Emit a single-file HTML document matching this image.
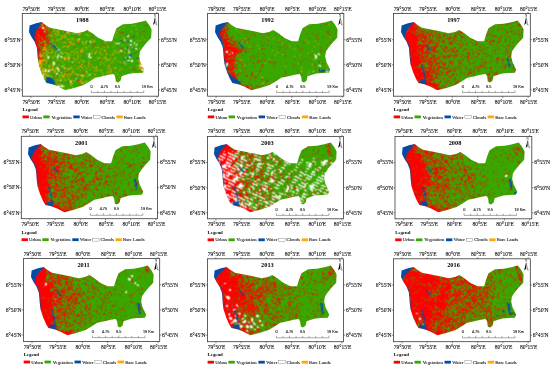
<!DOCTYPE html><html><head><meta charset="utf-8"><title>Land use maps 1988-2016</title><style>
html,body{margin:0;padding:0;background:#fff}svg{display:block}
text{font-family:"Liberation Serif",serif;fill:#111}
.tk{font-size:5.5px;stroke:#111;stroke-width:.1px}.tl{font-size:5.7px}.yr{font-size:6.3px;font-weight:bold;fill:#000}.lg{font-size:4.8px;font-weight:bold;fill:#000}.li{font-size:4.7px;stroke:#111;stroke-width:.08px}
.sb{font-family:"Liberation Sans",sans-serif;font-size:3.8px;fill:#222;stroke:#222;stroke-width:.12px}.n{font-size:3px;fill:#000}
</style></head><body>
<svg width="550" height="369" viewBox="0 0 550 369">
<defs><polygon id="pg" points="7.0,17.9 7.6,11.5 14.0,9.2 19.7,8.0 23.5,10.9 28,13.8 36.9,15.6 45.8,17.3 54.7,19.2 61.1,17.9 65.3,16.1 70.4,19.3 76.2,23.7 83.6,27.3 90.1,27.3 92,20.7 94.5,14.2 101.1,10.2 109.9,9.8 117.2,8.3 123.8,6.4 127.4,11.2 129.6,15.6 129.2,23.7 124.5,28.8 120.8,33.2 117.9,37.5 117.2,42.7 118.6,48.4 122.3,55.7 120.8,58.7 114.3,58.9 108.4,59.4 104,60.8 99.6,62.3 98.5,66.7 96,68.6 93.8,67.4 93.1,62.3 91.6,60.1 86.5,60.8 80.6,62.3 73.3,63.8 67.5,67.4 61.6,71.1 52.2,74 43.4,76.2 36.1,72.5 30.2,70.3 24.4,68.9 22.2,65.2 19.3,58.7 16.4,49.9 15.6,42.6 14.9,33.8 12.7,28.1 9.5,23"/><clipPath id="cp"><use href="#pg"/></clipPath><filter id="bl" x="-5%" y="-5%" width="110%" height="110%" color-interpolation-filters="sRGB"><feConvolveMatrix order="3" kernelMatrix="1 2 1 2 6 2 1 2 1" divisor="18" edgeMode="duplicate" preserveAlpha="false"/></filter></defs>
<rect width="550" height="369" fill="#fff"/>
<g transform="translate(22.3,13.5)">
<g transform="translate(-0.30,0.50)" clip-path="url(#cp)"><g filter="url(#bl)">
<use href="#pg" fill="#38a800" stroke="#38a800" stroke-width="5"/>
<path transform="translate(0,.5)" d="M122 4h1M120 5h1M122 6h1M22 9h1M25 9h1M104 9h1M20 10h1M26 10h1M20 11h1M25 11h1M110 11h1M113 11h1M24 12h1M129 12h1M27 13h1M32 13h1M35 13h1M37 13h1M93 13h1M101 13h1M22 14h1M31 14h1M36 14h1M40 14h1M24 15h1M26 15h1M32 15h1M36 15h1M38 15h2M48 15h1M63 15h1M92 15h1M97 15h1M114 15h1M36 16h1M48 16h2M94 16h1M31 17h2M34 17h2M46 17h1M57 17h1M66 17h3M91 17h1M109 17h1M36 18h1M41 18h1M47 18h1M95 18h1M29 19h1M33 19h1M36 19h1M45 19h1M47 19h1M50 19h1M52 19h2M57 19h1M93 19h1M115 19h1M32 20h1M35 20h1M43 20h1M47 20h1M56 20h3M63 20h1M65 20h1M72 20h1M75 20h1M90 20h2M16 21h1M26 21h1M28 21h2M34 21h1M37 21h1M39 21h1M42 21h1M65 21h1M67 21h1M73 21h1M91 21h1M30 22h1M40 22h1M43 22h1M75 22h1M94 22h1M129 22h1M33 23h1M40 23h1M42 23h2M80 23h1M101 23h1M120 23h1M39 24h1M49 24h1M51 24h1M57 24h1M81 24h1M101 24h1M20 25h1M31 25h1M35 25h1M37 25h2M45 25h3M50 25h1M55 25h2M69 25h1M98 25h1M122 25h1M30 26h1M34 26h1M56 26h1M72 26h1M82 26h1M84 26h1M88 26h1M115 26h1M118 26h1M17 27h1M22 27h1M27 27h1M29 27h1M36 27h1M47 27h1M49 27h1M55 27h1M60 27h1M67 27h1M70 27h1M72 27h1M83 27h1M102 27h1M128 27h1M28 28h1M40 28h1M42 28h2M47 28h2M56 28h1M60 28h1M63 28h1M71 28h1M83 28h1M92 28h1M19 29h1M30 29h1M49 29h1M51 29h1M61 29h1M63 29h1M115 29h1M22 30h3M31 30h1M33 30h1M48 30h1M50 30h1M52 30h1M61 30h1M85 30h1M93 30h1M107 30h1M29 31h1M46 31h2M100 31h1M112 31h1M22 32h1M41 32h2M44 32h2M67 32h1M80 32h1M85 32h1M91 32h1M22 33h2M28 33h1M34 33h2M40 33h1M46 33h1M63 33h2M73 33h1M75 33h2M82 33h1M86 33h1M107 33h1M21 34h1M23 34h1M55 34h1M60 34h1M117 34h1M21 35h4M26 35h1M28 35h1M45 35h1M53 35h1M60 35h1M64 35h1M78 35h2M21 36h1M30 36h1M58 36h3M70 36h1M75 36h1M82 36h2M92 36h2M23 37h2M30 37h1M38 37h2M49 37h2M52 37h1M55 37h1M58 37h1M61 37h1M74 37h1M83 37h1M97 37h1M20 38h1M25 38h3M29 38h1M33 38h1M43 38h2M54 38h1M58 38h2M68 38h1M70 38h1M73 38h1M77 38h2M91 38h1M93 38h1M95 38h2M102 38h1M107 38h1M18 39h1M21 39h2M29 39h1M33 39h1M38 39h2M45 39h2M48 39h1M52 39h1M56 39h1M64 39h1M72 39h2M84 39h1M107 39h1M18 40h1M69 40h1M78 40h1M80 40h1M84 40h1M90 40h2M17 41h2M20 41h2M25 41h1M33 41h1M45 41h2M48 41h1M51 41h1M55 41h1M58 41h1M88 41h1M18 42h3M24 42h1M27 42h1M31 42h1M33 42h1M43 42h1M83 42h1M118 42h1M18 43h1M22 43h1M27 43h1M30 43h1M40 43h3M47 43h1M55 43h2M75 43h1M77 43h1M82 43h1M93 43h1M20 44h1M31 44h1M42 44h3M46 44h2M51 44h1M53 44h1M67 44h1M75 44h1M77 44h1M80 44h1M83 44h2M88 44h1M92 44h1M17 45h1M19 45h1M22 45h1M25 45h1M36 45h1M42 45h2M46 45h1M52 45h1M55 45h1M59 45h1M84 45h1M86 45h1M93 45h1M116 45h1M118 45h2M13 46h1M17 46h7M34 46h1M38 46h1M42 46h1M47 46h1M67 46h1M72 46h1M85 46h1M87 46h1M90 46h1M115 46h1M117 46h2M16 47h3M20 47h1M24 47h1M31 47h1M46 47h1M50 47h1M53 47h1M60 47h3M79 47h1M83 47h1M96 47h1M117 47h1M119 47h1M14 48h1M17 48h3M24 48h1M30 48h1M40 48h1M56 48h2M66 48h1M78 48h1M91 48h1M98 48h1M101 48h1M117 48h2M120 48h1M16 49h3M20 49h1M23 49h1M66 49h1M81 49h1M89 49h1M102 49h1M104 49h1M117 49h2M17 50h2M28 50h1M59 50h2M67 50h1M69 50h1M78 50h1M103 50h1M118 50h2M121 50h1M19 51h2M23 51h1M26 51h1M30 51h2M36 51h1M41 51h2M52 51h1M58 51h1M83 51h1M86 51h2M115 51h1M16 52h1M18 52h1M30 52h1M39 52h1M49 52h1M56 52h1M58 52h1M63 52h1M66 52h1M74 52h1M118 52h1M15 53h5M30 53h2M34 53h1M42 53h2M59 53h2M70 53h2M74 53h1M86 53h1M93 53h1M108 53h1M116 53h2M119 53h1M121 53h1M15 54h1M18 54h1M21 54h3M26 54h1M33 54h2M45 54h2M50 54h1M54 54h1M56 54h1M64 54h1M73 54h2M85 54h1M88 54h1M92 54h2M98 54h1M118 54h2M121 54h1M18 55h1M20 55h2M23 55h2M27 55h3M31 55h1M35 55h1M46 55h1M61 55h1M67 55h1M87 55h1M100 55h1M117 55h1M119 55h1M124 55h1M20 56h2M31 56h1M33 56h1M37 56h1M45 56h1M51 56h1M58 56h1M72 56h1M74 56h2M78 56h2M87 56h1M89 56h1M97 56h1M119 56h1M17 57h5M25 57h1M29 57h1M32 57h2M43 57h1M50 57h1M85 57h1M89 57h1M17 58h1M19 58h1M25 58h1M32 58h1M50 58h2M64 58h1M80 58h1M86 58h1M88 58h1M93 58h1M111 58h1M17 59h1M20 59h4M43 59h1M46 59h1M48 59h1M53 59h1M65 59h1M69 59h1M80 59h1M84 59h1M23 60h2M27 60h1M37 60h1M39 60h1M42 60h2M45 60h1M48 60h1M52 60h1M57 60h2M72 60h2M88 60h1M95 60h1M19 61h2M24 61h3M37 61h1M40 61h2M45 61h1M49 61h1M55 61h1M61 61h1M63 61h1M80 61h2M86 61h1M92 61h1M102 61h1M19 62h2M24 62h1M26 62h2M33 62h1M39 62h1M41 62h2M47 62h1M60 62h2M65 62h1M82 62h1M19 63h2M23 63h1M37 63h1M41 63h1M45 63h1M72 63h1M81 63h1M92 63h1M97 63h1M19 64h1M23 64h1M39 64h1M60 64h1M70 64h1M92 64h1M21 65h1M33 65h1M35 65h1M38 65h1M42 65h1M46 65h2M53 65h1M59 65h1M68 65h1M74 65h1M92 65h1M21 66h1M23 66h1M36 66h1M39 66h1M43 66h1M48 66h1M51 66h1M58 66h1M71 66h1M93 66h1M21 67h1M34 67h1M52 67h1M57 67h2M60 67h1M63 67h2M67 67h1M22 68h1M48 68h1M59 68h1M61 68h1M65 68h1M68 68h1M98 68h1M36 69h1M48 69h3M59 69h3M63 69h1M34 70h1M38 70h1M49 70h1M66 70h1M30 71h1M32 71h1M48 71h1M40 72h1M42 72h1M40 73h1M50 73h1M56 73h1M61 73h1M34 74h1M37 74h1M52 74h1M55 74h1M43 75h1M47 75h1M42 76h1M44 76h1" stroke="#ffaa00" stroke-width="1" fill="none"/>
<path transform="translate(0,.5)" d="M15 6h6M12 7h6M20 7h1M9 8h4M20 8h2M99 8h1M116 8h1M7 9h3M19 9h1M6 10h1M19 10h1M21 10h3M5 11h1M18 11h1M22 11h2M26 11h1M123 11h2M5 12h1M17 12h2M20 12h3M27 12h1M30 12h1M5 13h1M16 13h1M19 13h1M22 13h1M95 13h1M5 14h1M16 14h4M23 14h3M5 15h1M15 15h8M25 15h1M27 15h2M91 15h1M14 16h8M24 16h1M28 16h1M65 16h1M93 16h1M14 17h1M16 17h6M23 17h3M27 17h1M48 17h1M120 17h1M122 17h1M13 18h9M25 18h1M28 18h1M42 18h1M98 18h1M100 18h2M13 19h2M16 19h11M28 19h1M39 19h1M46 19h1M118 19h1M13 20h11M25 20h1M31 20h1M73 20h1M6 21h1M13 21h3M17 21h8M59 21h1M71 21h1M112 21h1M12 22h7M20 22h3M25 22h2M54 22h1M108 22h1M7 23h1M12 23h2M15 23h2M18 23h2M21 23h3M32 23h1M122 23h1M13 24h2M16 24h3M20 24h7M31 24h1M69 24h1M8 25h1M13 25h4M18 25h2M21 25h2M24 25h1M33 25h1M41 25h1M101 25h1M9 26h1M13 26h2M16 26h6M24 26h4M39 26h1M47 26h1M13 27h4M18 27h2M26 27h1M28 27h1M105 27h1M13 28h5M24 28h3M55 28h1M119 28h1M14 29h3M18 29h1M20 29h4M25 29h1M34 29h1M57 29h1M66 29h1M72 29h1M14 30h2M18 30h4M25 30h2M46 30h2M72 30h1M80 30h1M86 30h1M14 31h2M18 31h5M24 31h1M83 31h1M14 32h4M21 32h1M23 32h1M29 32h1M71 32h1M79 32h1M12 33h5M19 33h1M29 33h1M52 33h1M12 34h7M20 34h1M22 34h1M24 34h1M27 34h1M98 34h1M100 34h1M12 35h1M16 35h2M27 35h1M16 36h3M31 36h1M77 36h1M13 37h1M16 37h2M21 37h2M27 37h1M45 37h1M57 37h1M84 37h1M105 37h1M114 37h1M13 38h1M16 38h1M18 38h2M71 38h1M13 39h1M16 39h1M20 39h1M58 39h1M13 40h1M16 40h2M22 40h1M99 40h1M13 41h1M16 41h1M13 42h1M16 42h1M87 42h1M13 43h1M16 43h2M19 43h3M36 43h1M54 43h1M60 43h1M14 44h1M17 44h3M13 45h2M16 45h1M18 45h1M20 45h1M49 45h1M27 46h1M78 46h1M21 48h1M23 48h1M26 49h1M64 49h1M119 49h1M50 50h1M58 50h1M68 50h1M89 50h1M17 51h1M84 51h1M121 51h1M21 52h1M29 52h1M43 52h1M36 53h1M101 54h1M112 54h1M60 55h1M86 55h1M110 55h1M39 56h1M90 56h1M113 56h1M118 56h1M28 57h1M44 58h2M47 58h1M62 58h1M122 58h1M37 59h1M56 59h1M18 60h1M59 60h1M31 61h1M34 61h1M43 61h1M52 61h1M89 61h1M49 62h1M93 62h1M99 63h1M33 64h1M56 66h2M45 67h1M56 67h1M36 68h1M58 70h1M37 75h1" stroke="#ff0000" stroke-width="1" fill="none"/>
<path transform="translate(0,.5)" d="M20 13h2M20 14h2M41 14h2M41 15h1M22 17h1M45 17h1M54 17h1M45 18h1M106 21h1M105 22h2M57 25h1M102 25h1M102 26h1M108 26h2M64 27h1M68 27h1M108 27h2M68 28h1M112 28h1M94 29h4M112 29h1M108 30h2M114 30h1M108 31h1M114 31h1M110 33h1M103 34h1M113 34h2M36 35h2M106 35h1M114 35h1M35 36h1M98 36h2M99 37h1M106 37h2M40 39h1M67 39h1M106 39h1M24 40h1M36 40h1M66 40h2M36 41h1M67 41h1M26 42h1M35 42h2M38 42h2M66 42h2M107 42h1M25 43h2M35 43h1M39 43h1M46 43h1M67 43h3M103 43h1M107 43h2M13 44h1M26 44h1M35 44h1M105 46h3M109 46h2M102 47h1M109 47h2M31 48h2M50 48h1M14 49h2M31 49h2M14 50h3M31 50h2M14 51h2M117 51h4M27 52h1M40 52h1M119 52h3M35 53h1M35 54h2M42 54h1M48 54h1M30 55h1M36 55h1M120 55h2M23 56h2M26 56h2M36 56h1M120 56h2M22 57h2M26 57h2M36 57h1M64 57h1M39 58h1M34 59h2M21 60h1M34 60h1M55 60h1M67 60h1M21 61h1M59 61h2M67 61h1M21 62h1M29 62h1M21 63h1M54 64h1M38 66h1M48 67h2M36 71h1M39 71h2M35 72h5M41 72h1M35 73h2M46 75h1" stroke="#ffffff" stroke-width="1" fill="none"/>
<path transform="translate(0,.5)" d="M18 7h2M13 8h7M10 9h9M7 10h11M6 11h12M6 12h11M6 13h10M6 14h10M6 15h9M5 16h9M5 17h9M5 18h8M5 19h8M6 20h7M104 20h1M7 21h6M7 22h5M111 22h1M8 23h4M111 23h1M8 24h5M9 25h4M10 26h3M98 26h2M10 27h3M101 27h1M106 27h1M10 28h3M27 28h1M101 28h1M108 28h1M11 29h3M28 29h2M108 29h1M11 30h3M29 30h2M11 31h3M30 31h2M122 31h1M12 32h2M31 32h2M108 32h1M32 33h2M105 33h1M111 33h1M33 34h2M105 34h1M111 34h1M13 35h3M34 35h2M14 36h2M36 36h1M14 37h2M14 38h2M14 39h2M112 39h1M14 40h2M106 40h3M14 41h2M108 41h2M14 42h2M108 42h1M14 43h2M101 43h1M15 44h1M105 44h1M114 44h3M15 45h1M105 45h1M15 46h1M101 46h2M116 49h1M100 50h1M24 63h4M24 64h6M24 65h7M24 66h8M24 67h8M24 68h9M27 69h6M30 70h3" stroke="#004da8" stroke-width="1" fill="none"/>
</g></g>
<rect x="0" y="0" width="136.2" height="82.7" fill="none" stroke="#3a3a3a" stroke-width=".8"/>
<path d="M8.5 0v-1.6M8.5 82.7v1.6M33.7 0v-1.6M33.7 82.7v1.6M58.9 0v-1.6M58.9 82.7v1.6M84.2 0v-1.6M84.2 82.7v1.6M109.4 0v-1.6M109.4 82.7v1.6M134.6 0v-1.6M134.6 82.7v1.6M0 26.2h-1.6M136.2 26.2h1.6M0 51.3h-1.6M136.2 51.3h1.6M0 76.4h-1.6M136.2 76.4h1.6" stroke="#3a3a3a" stroke-width=".6" fill="none"/>
<text class="tk" x="9.1" y="-3.0" text-anchor="middle">79°50'E</text>
<text class="tk" x="9.1" y="90.4" text-anchor="middle">79°50'E</text>
<text class="tk" x="34.3" y="-3.0" text-anchor="middle">79°55'E</text>
<text class="tk" x="34.3" y="90.4" text-anchor="middle">79°55'E</text>
<text class="tk" x="59.5" y="-3.0" text-anchor="middle">80°0'E</text>
<text class="tk" x="59.5" y="90.4" text-anchor="middle">80°0'E</text>
<text class="tk" x="84.8" y="-3.0" text-anchor="middle">80°5'E</text>
<text class="tk" x="84.8" y="90.4" text-anchor="middle">80°5'E</text>
<text class="tk" x="110.0" y="-3.0" text-anchor="middle">80°10'E</text>
<text class="tk" x="110.0" y="90.4" text-anchor="middle">80°10'E</text>
<text class="tk" x="135.2" y="-3.0" text-anchor="middle">80°15'E</text>
<text class="tk" x="135.2" y="90.4" text-anchor="middle">80°15'E</text>
<text class="tk tl" x="-1.8" y="28.1" text-anchor="end">6°55'N</text>
<text class="tk tl" x="138.6" y="28.1">6°55'N</text>
<text class="tk tl" x="-1.8" y="53.2" text-anchor="end">6°50'N</text>
<text class="tk tl" x="138.6" y="53.2">6°50'N</text>
<text class="tk tl" x="-1.8" y="78.3" text-anchor="end">6°45'N</text>
<text class="tk tl" x="138.6" y="78.3">6°45'N</text>
<text class="yr" x="60" y="8.6" text-anchor="middle">1988</text>
<text class="n" x="132.5" y="3.5" text-anchor="middle">N</text>
<path d="M132.6 4.2L130.6 11.7 132.6 9.6Z" fill="#000"/><path d="M132.6 4.2L134.6 11.7 132.6 9.6Z" fill="#fff" stroke="#000" stroke-width=".35"/>
<path d="M69.0 76.9V79.0H121.5V76.9M75.56 79.0v-1.7M82.12 79.0v-2.0M88.69 79.0v-1.7M95.25 79.0v-2.0M101.81 79.0v-1.7M108.38 79.0v-1.7M114.94 79.0v-1.7" stroke="#555" stroke-width=".5" fill="none"/>
<text class="sb" x="69.2" y="74.2" text-anchor="middle">0</text>
<text class="sb" x="82.1" y="74.2" text-anchor="middle">4.75</text>
<text class="sb" x="95.2" y="74.2" text-anchor="middle">9.5</text>
<text class="sb" x="125.0" y="74.2" text-anchor="middle">19 Km</text>
<text class="lg" x="0.2" y="97.5">Legend</text>
<rect x="0.2" y="102.0" width="6.4" height="2.8" fill="#ff0000"/>
<text class="li" x="7.8" y="105.1">Urban</text>
<rect x="21.0" y="102.0" width="6.4" height="2.8" fill="#38a800"/>
<text class="li" x="29.2" y="105.1">Vegetation</text>
<rect x="51.0" y="102.0" width="6.4" height="2.8" fill="#004da8"/>
<text class="li" x="58.8" y="105.1">Water</text>
<rect x="71.4" y="102.0" width="6.4" height="2.8" fill="#ffffff" stroke="#666" stroke-width=".35"/>
<text class="li" x="79.2" y="105.1">Clouds</text>
<rect x="94.2" y="102.0" width="6.4" height="2.8" fill="#ffaa00"/>
<text class="li" x="101.7" y="105.1">Bare Lands</text>
</g>
<g transform="translate(207.6,13.5)">
<g transform="translate(0.40,0.50)" clip-path="url(#cp)"><g filter="url(#bl)">
<use href="#pg" fill="#38a800" stroke="#38a800" stroke-width="5"/>
<path transform="translate(0,.5)" d="M124 6h1M126 6h1M100 9h1M120 10h1M33 12h1M97 14h1M28 15h1M33 16h1M60 16h1M59 23h1M77 23h1M121 23h1M37 24h1M65 24h1M70 26h1M97 26h1M34 27h1M99 27h1M107 27h1M39 28h1M74 29h1M100 29h1M110 30h1M20 31h1M49 31h1M81 32h1M106 32h1M41 33h1M51 34h1M86 35h1M64 36h1M104 37h1M69 38h1M100 39h1M74 40h1M29 41h1M67 41h1M92 41h1M86 42h1M106 44h1M61 45h1M106 45h1M32 46h2M27 48h1M112 48h1M57 49h1M90 49h1M104 50h1M36 51h1M118 51h1M77 52h1M93 53h1M109 55h1M32 56h1M93 56h1M93 57h1M101 57h1M48 59h1M100 59h1M99 61h1M53 63h2M74 63h1M81 64h1M54 69h2M60 69h1M35 73h1M42 73h1" stroke="#ffaa00" stroke-width="1" fill="none"/>
<path transform="translate(0,.5)" d="M15 6h4M20 6h1M12 7h6M20 7h1M22 7h1M125 7h1M9 8h1M11 8h2M19 8h4M107 8h1M125 8h1M8 9h2M20 9h1M23 9h1M108 9h1M6 10h1M117 10h1M119 10h1M5 11h1M18 11h2M5 12h1M16 12h2M27 12h1M95 12h1M113 12h1M5 13h1M15 13h1M19 13h1M103 13h1M5 14h1M14 14h3M19 14h2M96 14h1M16 15h1M18 15h2M34 15h1M39 15h1M48 15h1M13 16h4M18 16h1M32 16h1M44 16h1M50 16h1M59 16h1M121 16h1M12 17h6M20 17h1M48 17h1M119 17h1M12 18h2M15 18h3M35 18h1M119 18h2M12 19h4M17 19h2M38 19h1M44 19h1M52 19h1M54 19h1M58 19h1M60 19h1M99 19h1M104 19h1M110 19h1M127 19h1M11 20h5M18 20h2M46 20h1M67 20h1M71 20h1M107 20h1M121 20h1M6 21h1M11 21h4M16 21h4M30 21h1M60 21h1M13 22h4M18 22h1M20 22h1M25 22h1M38 22h1M42 22h1M47 22h1M89 22h1M108 22h1M7 23h1M13 23h2M16 23h1M19 23h1M23 23h2M54 23h1M74 23h1M115 23h1M129 23h1M14 24h2M17 24h4M23 24h1M58 24h1M101 24h1M110 24h1M120 24h1M8 25h1M15 25h8M39 25h3M108 25h1M125 25h1M9 26h1M14 26h5M22 26h1M24 26h1M28 26h1M32 26h1M36 26h1M60 26h1M82 26h1M16 27h3M23 27h1M25 27h2M53 27h1M70 27h1M83 27h1M95 27h1M97 27h1M15 28h7M26 28h1M28 28h1M35 28h1M40 28h1M69 28h1M122 28h1M15 29h8M25 29h2M56 29h1M95 29h1M16 30h8M25 30h1M27 30h2M45 30h1M78 30h1M119 30h1M16 31h4M21 31h1M23 31h4M29 31h1M54 31h1M59 31h1M17 32h6M24 32h1M30 32h1M75 32h1M89 32h1M16 33h14M71 33h2M79 33h1M112 33h1M16 34h11M28 34h2M31 34h1M33 34h1M38 34h1M41 34h1M43 34h1M45 34h1M54 34h1M56 34h1M91 34h1M94 34h1M12 35h1M16 35h13M30 35h1M32 35h1M34 35h1M53 35h1M77 35h1M113 35h1M16 36h3M20 36h2M23 36h10M34 36h1M36 36h2M71 36h1M93 36h1M112 36h1M16 37h1M20 37h2M23 37h11M38 37h1M40 37h1M116 37h1M16 38h2M20 38h4M25 38h5M31 38h1M33 38h1M37 38h1M75 38h1M113 38h1M13 39h1M16 39h6M23 39h1M25 39h3M29 39h1M31 39h1M50 39h1M55 39h1M104 39h1M17 40h4M22 40h6M29 40h1M101 40h1M13 41h1M16 41h3M20 41h5M26 41h3M34 41h1M45 41h1M56 41h1M77 41h1M13 42h1M16 42h7M24 42h3M30 42h1M42 42h1M49 42h1M77 42h1M93 42h1M14 43h1M16 43h8M25 43h1M27 43h1M44 43h1M46 43h1M64 43h1M14 44h1M16 44h4M23 44h1M25 44h2M55 44h1M119 44h1M13 45h2M17 45h2M20 45h6M27 45h1M86 45h1M95 45h1M99 45h1M14 46h1M17 46h10M28 46h2M42 46h1M50 46h1M53 46h1M56 46h1M14 47h1M17 47h9M27 47h1M31 47h1M33 47h1M50 47h2M61 47h1M92 47h1M102 47h1M15 48h1M17 48h2M20 48h3M24 48h1M26 48h1M32 48h1M45 48h1M49 48h1M62 48h1M66 48h2M21 49h3M25 49h2M38 49h1M45 49h1M64 49h1M78 49h1M92 49h1M114 49h1M119 49h1M14 50h2M20 50h1M22 50h4M28 50h1M34 50h1M54 50h1M86 50h1M106 50h1M14 51h2M21 51h2M24 51h1M26 51h1M28 51h1M54 51h1M66 51h1M108 51h1M16 52h1M20 52h2M23 52h3M27 52h1M34 52h1M46 52h1M54 52h1M15 53h2M19 53h3M23 53h3M27 53h1M85 53h1M15 54h2M19 54h8M28 54h2M36 54h1M53 54h1M65 54h1M117 54h1M122 54h1M16 55h1M19 55h6M33 55h1M107 55h1M17 56h1M21 56h5M89 56h1M17 57h1M22 57h1M51 57h2M77 57h1M17 58h1M20 58h7M31 58h1M36 58h1M44 58h1M114 58h1M17 59h2M21 59h1M23 59h2M26 59h1M33 59h1M43 59h1M77 59h1M89 59h1M110 59h1M18 60h1M22 60h5M29 60h2M43 60h2M49 60h1M120 60h1M23 61h4M28 61h2M38 61h2M44 61h1M93 61h1M100 61h1M18 62h2M24 62h4M38 62h1M43 62h1M47 62h1M75 62h1M19 63h2M26 63h1M28 63h1M48 63h1M77 63h2M19 64h2M27 64h2M42 64h1M46 64h1M20 65h2M29 65h1M53 65h2M58 65h1M20 66h1M33 66h1M59 66h1M67 66h1M100 66h1M21 67h2M36 67h1M41 67h1M47 67h1M58 67h1M91 67h1M21 68h3M59 68h1M65 68h1M22 69h2M32 69h1M40 69h1M24 70h2M33 70h1M43 70h1M61 70h1M25 71h3M32 71h3M36 71h1M39 71h1M55 71h1M60 71h1M29 72h1M31 72h6M38 72h3M42 72h2M48 72h3M53 72h1M32 73h3M36 73h5M46 73h1M34 74h8M43 74h1M45 74h1M37 75h4M43 75h1M45 75h1M39 76h13M42 77h6M43 78h1" stroke="#ff0000" stroke-width="1" fill="none"/>
<path transform="translate(0,.5)" d="M18 37h2M18 38h2M24 38h1M24 39h1M110 39h1M21 40h1M106 40h1M110 40h2M107 41h2M107 42h2M107 43h2M108 44h1M18 49h2M18 50h2M18 51h1M110 51h3M18 52h1M112 52h1M118 55h1M16 56h1M16 57h1M105 57h1M118 57h2M121 57h1M118 58h1" stroke="#ffffff" stroke-width="1" fill="none"/>
<path transform="translate(0,.5)" d="M18 7h2M13 8h6M10 9h9M7 10h11M6 11h11M6 12h10M6 13h9M6 14h8M6 15h8M5 16h8M5 17h7M5 18h7M5 19h7M6 20h5M7 21h4M7 22h6M8 23h5M8 24h6M9 25h5M10 26h4M10 27h5M10 28h5M30 28h2M11 29h4M31 29h1M11 30h4M32 30h1M11 31h4M32 31h2M12 32h4M33 32h2M63 32h1M12 33h4M34 33h2M13 34h3M35 34h1M13 35h3M13 36h3M13 37h3M13 38h3M14 39h2M14 40h2M14 41h2M14 42h2M15 43h1M15 44h1M15 45h2M15 46h2M15 47h2M111 47h1M16 48h1M111 48h1M16 49h2M16 50h2M16 51h2M17 52h1M17 53h2M17 54h2M17 55h2M110 55h2M115 55h1M18 56h2M111 56h1M113 56h6M18 57h2M111 57h5M18 58h2M19 59h2M19 60h3M19 61h4M20 62h4M21 63h5M21 64h6M22 65h7M22 66h8M23 67h9M24 68h9M24 69h8M27 70h5M29 71h3" stroke="#004da8" stroke-width="1" fill="none"/>
</g></g>
<rect x="0" y="0" width="136.2" height="82.7" fill="none" stroke="#3a3a3a" stroke-width=".8"/>
<path d="M8.5 0v-1.6M8.5 82.7v1.6M33.7 0v-1.6M33.7 82.7v1.6M58.9 0v-1.6M58.9 82.7v1.6M84.2 0v-1.6M84.2 82.7v1.6M109.4 0v-1.6M109.4 82.7v1.6M134.6 0v-1.6M134.6 82.7v1.6M0 26.2h-1.6M136.2 26.2h1.6M0 51.3h-1.6M136.2 51.3h1.6M0 76.4h-1.6M136.2 76.4h1.6" stroke="#3a3a3a" stroke-width=".6" fill="none"/>
<text class="tk" x="9.1" y="-3.0" text-anchor="middle">79°50'E</text>
<text class="tk" x="9.1" y="90.4" text-anchor="middle">79°50'E</text>
<text class="tk" x="34.3" y="-3.0" text-anchor="middle">79°55'E</text>
<text class="tk" x="34.3" y="90.4" text-anchor="middle">79°55'E</text>
<text class="tk" x="59.5" y="-3.0" text-anchor="middle">80°0'E</text>
<text class="tk" x="59.5" y="90.4" text-anchor="middle">80°0'E</text>
<text class="tk" x="84.8" y="-3.0" text-anchor="middle">80°5'E</text>
<text class="tk" x="84.8" y="90.4" text-anchor="middle">80°5'E</text>
<text class="tk" x="110.0" y="-3.0" text-anchor="middle">80°10'E</text>
<text class="tk" x="110.0" y="90.4" text-anchor="middle">80°10'E</text>
<text class="tk" x="135.2" y="-3.0" text-anchor="middle">80°15'E</text>
<text class="tk" x="135.2" y="90.4" text-anchor="middle">80°15'E</text>
<text class="tk tl" x="-1.8" y="28.1" text-anchor="end">6°55'N</text>
<text class="tk tl" x="138.6" y="28.1">6°55'N</text>
<text class="tk tl" x="-1.8" y="53.2" text-anchor="end">6°50'N</text>
<text class="tk tl" x="138.6" y="53.2">6°50'N</text>
<text class="tk tl" x="-1.8" y="78.3" text-anchor="end">6°45'N</text>
<text class="tk tl" x="138.6" y="78.3">6°45'N</text>
<text class="yr" x="60" y="8.6" text-anchor="middle">1992</text>
<text class="n" x="132.5" y="3.5" text-anchor="middle">N</text>
<path d="M132.6 4.2L130.6 11.7 132.6 9.6Z" fill="#000"/><path d="M132.6 4.2L134.6 11.7 132.6 9.6Z" fill="#fff" stroke="#000" stroke-width=".35"/>
<path d="M69.0 76.9V79.0H121.5V76.9M75.56 79.0v-1.7M82.12 79.0v-2.0M88.69 79.0v-1.7M95.25 79.0v-2.0M101.81 79.0v-1.7M108.38 79.0v-1.7M114.94 79.0v-1.7" stroke="#555" stroke-width=".5" fill="none"/>
<text class="sb" x="69.2" y="74.2" text-anchor="middle">0</text>
<text class="sb" x="82.1" y="74.2" text-anchor="middle">4.75</text>
<text class="sb" x="95.2" y="74.2" text-anchor="middle">9.5</text>
<text class="sb" x="125.0" y="74.2" text-anchor="middle">19 Km</text>
<text class="lg" x="0.2" y="97.5">Legend</text>
<rect x="0.2" y="102.0" width="6.4" height="2.8" fill="#ff0000"/>
<text class="li" x="7.8" y="105.1">Urban</text>
<rect x="21.0" y="102.0" width="6.4" height="2.8" fill="#38a800"/>
<text class="li" x="29.2" y="105.1">Vegetation</text>
<rect x="51.0" y="102.0" width="6.4" height="2.8" fill="#004da8"/>
<text class="li" x="58.8" y="105.1">Water</text>
<rect x="71.4" y="102.0" width="6.4" height="2.8" fill="#ffffff" stroke="#666" stroke-width=".35"/>
<text class="li" x="79.2" y="105.1">Clouds</text>
<rect x="94.2" y="102.0" width="6.4" height="2.8" fill="#ffaa00"/>
<text class="li" x="101.7" y="105.1">Bare Lands</text>
</g>
<g transform="translate(393.5,13.5)">
<g transform="translate(0.50,0.50)" clip-path="url(#cp)"><g filter="url(#bl)">
<use href="#pg" fill="#38a800" stroke="#38a800" stroke-width="5"/>
<path transform="translate(0,.5)" d="M123 4h2M121 5h2M15 6h6M122 6h1M12 7h6M20 7h3M117 7h2M122 7h1M9 8h4M19 8h4M103 8h1M111 8h1M121 8h1M7 9h3M19 9h5M25 9h1M108 9h3M115 9h2M6 10h1M18 10h5M24 10h3M104 10h1M107 10h1M112 10h2M124 10h2M128 10h1M5 11h1M17 11h3M21 11h1M25 11h1M27 11h1M95 11h1M97 11h2M124 11h2M129 11h1M5 12h1M16 12h8M28 12h3M119 12h1M123 12h1M126 12h1M129 12h1M5 13h1M15 13h6M22 13h3M28 13h2M35 13h1M94 13h1M96 13h1M99 13h1M105 13h1M117 13h1M129 13h2M5 14h1M15 14h9M26 14h1M30 14h1M32 14h1M41 14h2M108 14h1M116 14h1M5 15h1M14 15h9M24 15h1M26 15h1M34 15h1M36 15h1M48 15h1M63 15h2M91 15h1M103 15h1M111 15h1M128 15h2M131 15h1M13 16h2M16 16h3M20 16h2M23 16h2M26 16h1M29 16h1M31 16h1M41 16h2M63 16h1M69 16h1M92 16h2M99 16h1M104 16h1M108 16h1M121 16h1M124 16h1M12 17h1M14 17h8M27 17h4M34 17h1M36 17h3M42 17h1M51 17h1M57 17h2M60 17h1M66 17h2M69 17h1M113 17h1M116 17h3M129 17h2M12 18h6M20 18h1M22 18h2M25 18h2M29 18h1M32 18h2M37 18h1M40 18h1M42 18h1M45 18h1M63 18h1M66 18h3M72 18h1M92 18h1M94 18h1M112 18h2M124 18h1M127 18h1M12 19h11M24 19h1M27 19h1M29 19h2M32 19h1M34 19h1M37 19h1M61 19h1M65 19h1M70 19h1M97 19h1M120 19h2M11 20h10M24 20h6M32 20h1M34 20h3M38 20h1M41 20h1M43 20h3M48 20h1M50 20h2M56 20h1M62 20h1M64 20h1M91 20h1M95 20h1M110 20h1M119 20h1M124 20h1M6 21h1M11 21h14M26 21h1M28 21h2M31 21h1M35 21h2M39 21h1M41 21h1M45 21h1M50 21h1M53 21h1M60 21h2M66 21h1M75 21h2M90 21h1M92 21h2M97 21h1M99 21h1M107 21h1M125 21h1M127 21h1M11 22h15M27 22h6M34 22h1M38 22h2M43 22h1M45 22h1M50 22h1M61 22h1M67 22h1M69 22h1M89 22h1M100 22h3M112 22h1M114 22h1M7 23h1M11 23h12M24 23h1M26 23h2M29 23h4M35 23h1M42 23h1M45 23h3M49 23h1M53 23h1M55 23h3M59 23h1M61 23h2M67 23h1M73 23h1M78 23h3M97 23h1M106 23h2M129 23h1M11 24h14M26 24h2M30 24h2M34 24h2M38 24h1M42 24h1M45 24h1M53 24h2M56 24h1M60 24h1M67 24h1M70 24h1M78 24h2M81 24h1M104 24h2M116 24h1M126 24h1M8 25h1M12 25h12M25 25h1M27 25h1M31 25h2M34 25h1M37 25h1M43 25h1M48 25h1M51 25h1M55 25h1M59 25h2M76 25h1M78 25h1M83 25h1M95 25h1M111 25h1M9 26h1M12 26h15M28 26h5M35 26h3M39 26h1M44 26h2M49 26h1M54 26h1M62 26h2M67 26h1M71 26h1M81 26h1M85 26h1M92 26h2M98 26h2M106 26h1M111 26h1M127 26h1M14 27h9M24 27h1M27 27h4M32 27h1M35 27h1M37 27h2M40 27h1M45 27h1M48 27h3M57 27h1M59 27h2M66 27h1M82 27h1M84 27h1M96 27h2M99 27h2M104 27h2M111 27h1M115 27h1M120 27h1M124 27h1M14 28h10M28 28h3M33 28h5M40 28h1M42 28h1M44 28h1M48 28h2M55 28h3M59 28h1M68 28h1M76 28h1M82 28h1M95 28h2M104 28h1M118 28h1M14 29h10M25 29h1M31 29h1M33 29h1M35 29h1M38 29h2M42 29h2M51 29h1M54 29h1M56 29h2M62 29h1M64 29h1M72 29h1M79 29h1M124 29h1M126 29h1M15 30h8M25 30h3M29 30h2M32 30h1M35 30h1M42 30h1M44 30h1M56 30h1M58 30h1M66 30h2M69 30h1M72 30h1M81 30h3M87 30h1M96 30h1M98 30h1M102 30h1M115 30h1M125 30h1M15 31h17M34 31h1M41 31h1M43 31h1M46 31h1M49 31h1M64 31h1M68 31h1M73 31h1M79 31h1M89 31h1M108 31h1M112 31h1M115 31h1M15 32h18M34 32h1M37 32h2M40 32h4M47 32h1M51 32h2M66 32h1M85 32h1M104 32h1M114 32h1M118 32h1M12 33h2M15 33h10M27 33h3M32 33h1M36 33h2M39 33h3M43 33h1M47 33h1M51 33h1M53 33h1M55 33h1M60 33h2M66 33h1M86 33h1M88 33h1M91 33h1M93 33h1M100 33h1M110 33h1M12 34h3M16 34h7M24 34h7M33 34h1M37 34h1M39 34h2M48 34h1M50 34h1M52 34h1M56 34h1M58 34h1M60 34h1M65 34h1M72 34h1M103 34h1M114 34h1M119 34h1M121 34h1M12 35h3M16 35h1M18 35h11M32 35h3M38 35h4M49 35h1M52 35h1M58 35h1M70 35h2M77 35h1M82 35h1M85 35h1M89 35h1M91 35h1M105 35h1M112 35h1M13 36h2M16 36h8M25 36h5M32 36h2M38 36h4M45 36h1M49 36h2M54 36h2M57 36h3M62 36h2M69 36h1M74 36h1M78 36h1M84 36h1M87 36h1M100 36h2M112 36h1M13 37h2M16 37h7M24 37h2M27 37h3M31 37h1M33 37h2M38 37h1M40 37h4M46 37h1M50 37h1M52 37h1M59 37h1M62 37h2M68 37h1M87 37h1M98 37h1M114 37h1M13 38h1M16 38h9M27 38h6M34 38h3M41 38h1M44 38h1M52 38h1M55 38h1M58 38h1M60 38h2M74 38h1M79 38h1M82 38h1M90 38h1M111 38h1M113 38h1M116 38h1M13 39h2M16 39h10M27 39h2M31 39h4M36 39h2M39 39h1M47 39h2M64 39h1M72 39h1M74 39h2M79 39h1M84 39h1M89 39h1M93 39h1M101 39h1M104 39h1M109 39h1M13 40h2M16 40h4M21 40h2M24 40h3M28 40h2M31 40h1M33 40h1M44 40h1M56 40h1M61 40h1M67 40h1M75 40h1M78 40h1M84 40h2M91 40h1M111 40h1M115 40h1M13 41h2M16 41h12M30 41h1M33 41h2M37 41h5M47 41h1M50 41h1M53 41h2M56 41h2M59 41h1M61 41h3M69 41h1M74 41h1M94 41h1M97 41h1M116 41h1M13 42h2M17 42h9M27 42h3M31 42h3M40 42h1M44 42h1M46 42h1M49 42h2M53 42h1M55 42h1M59 42h2M62 42h1M66 42h1M71 42h1M73 42h2M80 42h1M82 42h1M92 42h1M97 42h1M114 42h1M116 42h1M13 43h2M17 43h9M27 43h4M32 43h2M36 43h5M42 43h1M44 43h1M48 43h1M50 43h3M54 43h2M68 43h1M70 43h1M73 43h1M77 43h1M83 43h1M89 43h1M105 43h1M114 43h1M13 44h3M17 44h11M29 44h2M34 44h1M36 44h2M39 44h1M42 44h1M44 44h2M49 44h1M60 44h1M74 44h2M78 44h1M97 44h1M102 44h3M109 44h1M13 45h3M17 45h8M26 45h1M28 45h1M30 45h1M32 45h2M35 45h3M40 45h3M44 45h1M65 45h1M68 45h1M73 45h1M87 45h2M103 45h2M107 45h1M111 45h1M117 45h1M13 46h3M17 46h14M32 46h4M39 46h3M46 46h1M51 46h1M55 46h1M59 46h1M63 46h1M68 46h1M73 46h1M81 46h1M90 46h1M99 46h1M108 46h2M117 46h1M14 47h2M17 47h11M29 47h4M35 47h4M41 47h1M43 47h1M47 47h1M55 47h2M58 47h1M64 47h1M66 47h1M74 47h1M102 47h2M14 48h2M17 48h11M29 48h1M31 48h1M34 48h5M40 48h2M45 48h1M47 48h2M51 48h1M56 48h1M58 48h1M65 48h1M75 48h1M79 48h1M87 48h1M89 48h1M91 48h2M95 48h1M97 48h1M108 48h1M14 49h2M17 49h10M33 49h3M38 49h1M41 49h5M48 49h1M50 49h2M55 49h2M59 49h1M65 49h3M76 49h1M78 49h1M81 49h1M91 49h1M103 49h1M121 49h1M14 50h11M27 50h3M31 50h1M34 50h1M36 50h3M42 50h1M44 50h1M48 50h4M58 50h1M64 50h1M75 50h1M87 50h1M89 50h1M108 50h1M111 50h1M14 51h11M30 51h1M34 51h1M36 51h2M41 51h1M50 51h1M54 51h2M68 51h1M71 51h1M86 51h1M88 51h1M91 51h1M111 51h1M116 51h1M15 52h7M23 52h1M25 52h1M36 52h2M39 52h2M43 52h4M58 52h1M65 52h1M79 52h1M81 52h1M84 52h1M86 52h1M88 52h1M101 52h1M109 52h1M111 52h1M15 53h5M21 53h3M25 53h1M27 53h1M29 53h3M33 53h3M37 53h1M39 53h1M41 53h1M44 53h1M46 53h5M52 53h1M54 53h1M61 53h1M63 53h2M66 53h1M72 53h1M86 53h1M89 53h1M91 53h1M96 53h2M106 53h1M111 53h1M119 53h1M15 54h13M30 54h1M32 54h2M35 54h3M40 54h1M44 54h2M49 54h1M52 54h2M57 54h1M61 54h1M71 54h1M82 54h1M84 54h1M92 54h1M96 54h1M110 54h1M119 54h1M16 55h12M30 55h1M35 55h3M39 55h3M43 55h2M50 55h1M52 55h1M55 55h1M59 55h2M64 55h1M66 55h1M75 55h3M80 55h1M84 55h1M119 55h1M17 56h10M28 56h1M31 56h3M35 56h2M38 56h2M42 56h1M44 56h1M49 56h1M55 56h2M58 56h1M73 56h1M85 56h1M108 56h1M16 57h12M30 57h2M33 57h4M38 57h3M42 57h1M45 57h1M47 57h1M53 57h4M60 57h2M67 57h1M76 57h1M79 57h2M84 57h1M96 57h1M98 57h1M103 57h1M120 57h1M17 58h12M32 58h4M37 58h3M41 58h1M44 58h1M47 58h2M51 58h3M70 58h1M74 58h1M76 58h2M99 58h1M102 58h1M17 59h12M31 59h4M36 59h2M40 59h5M48 59h1M53 59h2M59 59h1M66 59h1M68 59h1M74 59h3M80 59h1M93 59h1M95 59h1M100 59h1M102 59h2M111 59h1M119 59h2M18 60h5M24 60h6M31 60h1M33 60h3M38 60h1M42 60h1M45 60h1M48 60h1M52 60h1M58 60h2M62 60h1M70 60h1M73 60h1M87 60h1M91 60h1M94 60h2M100 60h1M102 60h1M116 60h1M18 61h12M31 61h7M42 61h1M45 61h2M49 61h1M52 61h1M58 61h1M62 61h1M73 61h1M79 61h2M94 61h1M102 61h1M18 62h12M31 62h9M42 62h2M54 62h4M66 62h1M19 63h9M29 63h1M31 63h3M36 63h2M40 63h1M42 63h1M60 63h1M73 63h1M79 63h1M81 63h1M91 63h1M97 63h1M103 63h1M19 64h1M21 64h8M31 64h1M33 64h3M37 64h2M40 64h2M43 64h2M46 64h1M49 64h2M56 64h1M79 64h1M94 64h3M20 65h10M33 65h1M35 65h5M53 65h1M60 65h2M71 65h1M74 65h1M93 65h1M20 66h2M23 66h2M32 66h6M39 66h1M47 66h1M54 66h1M64 66h1M96 66h1M21 67h3M32 67h1M34 67h1M36 67h1M38 67h1M40 67h1M46 67h1M50 67h2M53 67h2M57 67h1M60 67h1M62 67h1M64 67h1M69 67h2M92 67h1M95 67h1M21 68h5M32 68h5M40 68h1M42 68h1M45 68h2M63 68h1M22 69h4M33 69h8M52 69h1M56 69h1M61 69h2M64 69h1M68 69h1M23 70h6M30 70h16M52 70h1M58 70h1M63 70h1M25 71h9M35 71h10M48 71h2M61 71h1M63 71h1M29 72h8M38 72h6M50 72h1M55 72h1M57 72h1M63 72h1M32 73h3M36 73h1M39 73h1M41 73h3M45 73h3M49 73h1M52 73h1M56 73h3M60 73h1M34 74h12M51 74h1M53 74h5M37 75h14M39 76h14M41 77h2M44 77h4M43 78h1" stroke="#ff0000" stroke-width="1" fill="none"/>
<path transform="translate(0,.5)" d="M18 7h2M13 8h6M10 9h9M7 10h11M6 11h11M6 12h10M6 13h9M6 14h8M6 15h8M5 16h8M5 17h7M5 18h7M5 19h7M6 20h5M7 21h4M7 22h4M8 23h3M8 24h3M9 25h3M10 26h2M10 27h4M10 28h4M11 29h3M11 30h4M11 31h4M32 31h2M12 32h3M33 32h1M14 33h1M34 33h1M15 34h1M34 34h2M15 35h1M35 35h2M15 36h1M36 36h1M15 37h1M15 38h1M118 38h2M15 39h1M118 39h2M15 40h1M118 40h2M15 41h1M118 41h2M15 42h1M118 42h2M15 43h2M118 43h2M16 44h1M113 44h1M118 44h2M16 45h1M113 45h2M118 45h2M16 46h1M113 46h2M119 46h1M16 47h1M114 47h1M119 47h2M16 48h1M114 48h1M119 48h2M16 49h1M114 49h1M119 49h2M114 50h2M119 50h2M27 51h2M114 51h2M119 51h2M27 52h2M115 52h1M28 53h1M115 53h1M28 54h1M28 55h2M29 56h1M29 57h1M29 58h2M29 59h2M30 60h1M30 61h1M30 62h1M30 63h1M30 64h1M30 65h2M26 66h6M25 67h7M26 68h6M26 69h7M29 70h1" stroke="#004da8" stroke-width="1" fill="none"/>
</g></g>
<rect x="0" y="0" width="136.8" height="82.7" fill="none" stroke="#3a3a3a" stroke-width=".8"/>
<path d="M8.5 0v-1.6M8.5 82.7v1.6M33.7 0v-1.6M33.7 82.7v1.6M58.9 0v-1.6M58.9 82.7v1.6M84.2 0v-1.6M84.2 82.7v1.6M109.4 0v-1.6M109.4 82.7v1.6M134.6 0v-1.6M134.6 82.7v1.6M0 26.2h-1.6M136.8 26.2h1.6M0 51.3h-1.6M136.8 51.3h1.6M0 76.4h-1.6M136.8 76.4h1.6" stroke="#3a3a3a" stroke-width=".6" fill="none"/>
<text class="tk" x="9.1" y="-3.0" text-anchor="middle">79°50'E</text>
<text class="tk" x="9.1" y="90.4" text-anchor="middle">79°50'E</text>
<text class="tk" x="34.3" y="-3.0" text-anchor="middle">79°55'E</text>
<text class="tk" x="34.3" y="90.4" text-anchor="middle">79°55'E</text>
<text class="tk" x="59.5" y="-3.0" text-anchor="middle">80°0'E</text>
<text class="tk" x="59.5" y="90.4" text-anchor="middle">80°0'E</text>
<text class="tk" x="84.8" y="-3.0" text-anchor="middle">80°5'E</text>
<text class="tk" x="84.8" y="90.4" text-anchor="middle">80°5'E</text>
<text class="tk" x="110.0" y="-3.0" text-anchor="middle">80°10'E</text>
<text class="tk" x="110.0" y="90.4" text-anchor="middle">80°10'E</text>
<text class="tk" x="135.2" y="-3.0" text-anchor="middle">80°15'E</text>
<text class="tk" x="135.2" y="90.4" text-anchor="middle">80°15'E</text>
<text class="tk tl" x="-1.8" y="28.1" text-anchor="end">6°55'N</text>
<text class="tk tl" x="139.2" y="28.1">6°55'N</text>
<text class="tk tl" x="-1.8" y="53.2" text-anchor="end">6°50'N</text>
<text class="tk tl" x="139.2" y="53.2">6°50'N</text>
<text class="tk tl" x="-1.8" y="78.3" text-anchor="end">6°45'N</text>
<text class="tk tl" x="139.2" y="78.3">6°45'N</text>
<text class="yr" x="60" y="8.6" text-anchor="middle">1997</text>
<text class="n" x="132.5" y="3.5" text-anchor="middle">N</text>
<path d="M132.6 4.2L130.6 11.7 132.6 9.6Z" fill="#000"/><path d="M132.6 4.2L134.6 11.7 132.6 9.6Z" fill="#fff" stroke="#000" stroke-width=".35"/>
<path d="M69.0 76.9V79.0H121.5V76.9M75.56 79.0v-1.7M82.12 79.0v-2.0M88.69 79.0v-1.7M95.25 79.0v-2.0M101.81 79.0v-1.7M108.38 79.0v-1.7M114.94 79.0v-1.7" stroke="#555" stroke-width=".5" fill="none"/>
<text class="sb" x="69.2" y="74.2" text-anchor="middle">0</text>
<text class="sb" x="82.1" y="74.2" text-anchor="middle">4.75</text>
<text class="sb" x="95.2" y="74.2" text-anchor="middle">9.5</text>
<text class="sb" x="125.0" y="74.2" text-anchor="middle">19 Km</text>
<text class="lg" x="0.2" y="97.5">Legend</text>
<rect x="0.2" y="102.0" width="6.4" height="2.8" fill="#ff0000"/>
<text class="li" x="7.8" y="105.1">Urban</text>
<rect x="21.0" y="102.0" width="6.4" height="2.8" fill="#38a800"/>
<text class="li" x="29.2" y="105.1">Vegetation</text>
<rect x="51.0" y="102.0" width="6.4" height="2.8" fill="#004da8"/>
<text class="li" x="58.8" y="105.1">Water</text>
<rect x="71.4" y="102.0" width="6.4" height="2.8" fill="#ffffff" stroke="#666" stroke-width=".35"/>
<text class="li" x="79.2" y="105.1">Clouds</text>
<rect x="94.2" y="102.0" width="6.4" height="2.8" fill="#ffaa00"/>
<text class="li" x="101.7" y="105.1">Bare Lands</text>
</g>
<g transform="translate(21.3,136.3)">
<g transform="translate(-0.30,-0.30)" clip-path="url(#cp)"><g filter="url(#bl)">
<use href="#pg" fill="#38a800" stroke="#38a800" stroke-width="5"/>
<path transform="translate(0,.5)" d="M122 4h1M125 5h1M15 6h6M12 7h6M20 7h3M109 7h1M9 8h4M19 8h3M23 8h1M103 8h1M7 9h3M19 9h2M22 9h1M24 9h1M128 9h1M6 10h1M18 10h2M22 10h4M105 10h1M117 10h1M5 11h1M17 11h2M20 11h2M24 11h1M27 11h1M114 11h1M120 11h1M5 12h1M16 12h2M19 12h1M22 12h5M28 12h1M94 12h1M104 12h1M5 13h1M15 13h5M26 13h1M32 13h1M36 13h2M96 13h1M115 13h1M5 14h1M14 14h6M21 14h2M29 14h1M32 14h1M37 14h1M39 14h1M65 14h1M99 14h2M107 14h1M111 14h1M113 14h1M116 14h1M5 15h1M14 15h9M27 15h1M29 15h1M31 15h3M35 15h1M40 15h3M44 15h2M66 15h1M100 15h1M13 16h9M25 16h1M27 16h1M29 16h1M32 16h2M35 16h2M44 16h1M47 16h1M49 16h1M51 16h1M56 16h1M61 16h1M68 16h1M110 16h1M117 16h1M129 16h1M12 17h9M22 17h1M26 17h1M28 17h3M35 17h2M42 17h1M44 17h1M51 17h1M53 17h1M57 17h1M60 17h1M12 18h9M23 18h2M27 18h3M31 18h1M34 18h1M36 18h1M39 18h1M43 18h1M45 18h3M50 18h2M57 18h1M65 18h1M68 18h2M12 19h8M22 19h2M26 19h1M28 19h1M32 19h2M38 19h1M42 19h3M47 19h2M52 19h2M62 19h1M71 19h1M103 19h1M115 19h1M127 19h1M11 20h7M19 20h1M22 20h4M27 20h1M29 20h1M33 20h4M40 20h2M53 20h1M55 20h1M58 20h1M60 20h1M64 20h1M66 20h1M68 20h1M93 20h1M103 20h1M6 21h1M11 21h13M25 21h6M34 21h2M37 21h1M43 21h2M46 21h3M51 21h1M58 21h1M65 21h1M68 21h1M96 21h1M122 21h1M131 21h1M11 22h12M26 22h2M29 22h1M31 22h2M34 22h2M39 22h1M41 22h2M47 22h2M51 22h1M62 22h1M68 22h1M72 22h1M94 22h1M99 22h1M111 22h1M122 22h1M7 23h1M11 23h10M22 23h1M26 23h4M31 23h2M34 23h1M36 23h1M38 23h1M40 23h1M42 23h2M45 23h1M47 23h1M54 23h1M62 23h1M64 23h1M68 23h1M76 23h1M89 23h1M101 23h1M11 24h9M21 24h4M26 24h1M28 24h2M32 24h4M54 24h1M64 24h3M69 24h1M73 24h1M75 24h1M129 24h1M8 25h1M12 25h16M29 25h4M34 25h5M41 25h3M47 25h1M65 25h1M68 25h2M72 25h1M98 25h1M101 25h1M129 25h1M9 26h1M12 26h10M24 26h1M26 26h3M30 26h1M32 26h5M39 26h3M43 26h1M45 26h4M52 26h1M55 26h1M58 26h1M60 26h2M68 26h1M96 26h1M121 26h4M14 27h12M27 27h1M29 27h2M32 27h2M37 27h1M39 27h3M43 27h1M47 27h1M52 27h1M55 27h1M60 27h3M64 27h1M71 27h1M73 27h2M84 27h2M97 27h1M102 27h1M105 27h3M112 27h1M117 27h1M14 28h14M29 28h5M38 28h3M43 28h1M48 28h3M52 28h2M55 28h1M57 28h1M59 28h1M63 28h1M69 28h1M78 28h1M82 28h1M108 28h1M112 28h1M114 28h1M14 29h11M26 29h3M30 29h2M33 29h1M35 29h2M38 29h1M43 29h2M49 29h2M60 29h1M63 29h1M68 29h5M83 29h1M95 29h1M108 29h3M120 29h1M15 30h4M20 30h6M27 30h1M29 30h2M34 30h5M40 30h1M45 30h3M49 30h3M61 30h1M69 30h2M76 30h2M81 30h1M88 30h1M93 30h1M108 30h1M111 30h1M119 30h2M122 30h1M15 31h14M35 31h5M41 31h3M48 31h3M55 31h1M57 31h2M60 31h1M62 31h1M64 31h2M68 31h1M74 31h1M80 31h1M95 31h1M98 31h1M106 31h1M108 31h1M122 31h1M15 32h10M26 32h2M29 32h2M32 32h1M34 32h2M37 32h1M43 32h1M47 32h6M55 32h1M78 32h2M87 32h3M91 32h1M97 32h1M113 32h1M12 33h2M15 33h8M24 33h5M30 33h2M33 33h1M35 33h3M42 33h1M51 33h1M53 33h3M57 33h1M65 33h1M13 34h2M16 34h13M30 34h3M36 34h2M39 34h2M42 34h1M45 34h1M53 34h2M56 34h2M69 34h1M71 34h1M78 34h4M102 34h1M112 34h1M12 35h3M16 35h12M29 35h2M33 35h2M37 35h4M42 35h2M47 35h1M54 35h1M62 35h2M65 35h1M75 35h2M78 35h1M92 35h1M95 35h1M99 35h1M111 35h1M13 36h2M16 36h13M30 36h1M32 36h2M37 36h1M42 36h1M46 36h1M53 36h1M55 36h1M58 36h3M62 36h1M74 36h2M81 36h1M83 36h1M93 36h1M102 36h2M118 36h1M13 37h2M16 37h15M33 37h2M36 37h1M38 37h3M57 37h2M60 37h1M65 37h1M67 37h2M70 37h1M74 37h1M86 37h1M95 37h1M98 37h1M109 37h1M13 38h2M16 38h10M27 38h1M29 38h4M34 38h1M37 38h1M40 38h1M52 38h1M56 38h1M58 38h1M60 38h1M65 38h1M74 38h2M87 38h1M100 38h1M102 38h1M107 38h1M115 38h2M13 39h2M16 39h12M29 39h5M37 39h1M40 39h1M43 39h1M56 39h1M60 39h1M79 39h1M81 39h1M84 39h1M92 39h2M95 39h2M13 40h2M16 40h11M28 40h1M31 40h1M33 40h3M37 40h1M40 40h1M44 40h1M47 40h1M51 40h2M56 40h1M62 40h1M72 40h1M75 40h2M80 40h1M85 40h3M100 40h1M103 40h1M108 40h1M13 41h2M16 41h15M33 41h3M38 41h2M41 41h1M46 41h2M54 41h2M61 41h1M64 41h1M74 41h1M79 41h1M84 41h1M88 41h2M92 41h1M94 41h1M109 41h1M115 41h1M13 42h2M16 42h9M26 42h6M33 42h2M37 42h2M40 42h1M42 42h3M46 42h1M54 42h1M59 42h4M73 42h1M75 42h3M13 43h2M17 43h10M31 43h1M34 43h2M43 43h1M52 43h1M56 43h1M58 43h2M62 43h1M71 43h1M75 43h7M103 43h1M106 43h1M13 44h3M17 44h10M28 44h2M33 44h1M35 44h1M37 44h1M39 44h2M44 44h1M48 44h1M52 44h1M54 44h1M56 44h2M60 44h3M71 44h3M85 44h1M93 44h1M95 44h1M13 45h3M17 45h5M23 45h4M28 45h1M33 45h1M35 45h1M38 45h1M40 45h1M43 45h1M48 45h1M50 45h2M54 45h2M58 45h1M61 45h3M67 45h1M69 45h1M73 45h1M84 45h3M89 45h2M99 45h1M13 46h3M17 46h10M30 46h2M39 46h1M50 46h3M54 46h2M63 46h1M68 46h1M70 46h1M72 46h2M79 46h1M84 46h2M94 46h1M108 46h1M115 46h2M120 46h1M14 47h2M17 47h12M30 47h1M33 47h3M40 47h4M48 47h1M57 47h1M60 47h1M78 47h2M82 47h1M84 47h1M91 47h1M100 47h1M107 47h1M116 47h1M14 48h2M18 48h12M34 48h3M43 48h1M50 48h1M56 48h1M60 48h2M65 48h3M69 48h2M72 48h1M78 48h1M83 48h1M86 48h2M93 48h1M107 48h1M116 48h1M14 49h2M17 49h12M35 49h3M40 49h1M44 49h1M50 49h1M52 49h1M55 49h1M57 49h1M59 49h1M62 49h1M65 49h1M68 49h1M74 49h1M76 49h1M78 49h1M82 49h1M86 49h1M89 49h1M113 49h1M14 50h14M29 50h7M38 50h1M40 50h1M46 50h2M50 50h1M52 50h1M63 50h1M65 50h1M75 50h1M97 50h1M108 50h1M14 51h2M17 51h1M19 51h5M26 51h1M29 51h1M31 51h1M33 51h1M35 51h1M37 51h1M39 51h1M42 51h3M46 51h1M49 51h4M58 51h1M61 51h1M63 51h2M67 51h1M83 51h1M92 51h1M15 52h12M29 52h1M33 52h1M37 52h1M43 52h2M46 52h1M54 52h1M58 52h1M60 52h1M63 52h2M66 52h1M73 52h1M75 52h1M97 52h1M118 52h1M15 53h11M29 53h1M33 53h3M38 53h1M40 53h4M46 53h1M56 53h1M58 53h1M61 53h1M63 53h2M66 53h1M68 53h1M75 53h2M80 53h1M87 53h1M94 53h1M96 53h1M110 53h1M112 53h1M15 54h13M34 54h5M40 54h3M45 54h1M48 54h1M50 54h1M56 54h1M58 54h1M62 54h1M64 54h1M70 54h1M76 54h1M91 54h1M103 54h1M110 54h1M114 54h1M120 54h3M16 55h12M37 55h1M39 55h1M43 55h1M46 55h1M51 55h1M53 55h1M56 55h1M62 55h1M66 55h1M70 55h1M91 55h1M103 55h1M110 55h1M117 55h1M122 55h1M16 56h1M18 56h10M30 56h1M32 56h2M35 56h1M42 56h3M47 56h1M51 56h1M54 56h1M57 56h2M72 56h1M79 56h1M94 56h2M16 57h12M31 57h5M38 57h1M40 57h3M46 57h4M55 57h1M60 57h1M64 57h2M72 57h1M92 57h1M94 57h1M104 57h1M17 58h8M26 58h1M31 58h1M34 58h2M40 58h1M43 58h2M51 58h2M54 58h1M60 58h2M64 58h1M72 58h1M80 58h1M83 58h1M86 58h2M94 58h1M96 58h1M102 58h2M110 58h1M17 59h2M20 59h7M33 59h1M36 59h1M38 59h1M41 59h1M43 59h2M50 59h2M55 59h1M60 59h1M62 59h2M73 59h1M77 59h1M86 59h1M89 59h1M92 59h1M104 59h2M18 60h2M21 60h4M27 60h1M32 60h4M39 60h3M43 60h1M45 60h1M50 60h1M52 60h3M56 60h1M58 60h1M61 60h1M65 60h1M73 60h1M81 60h1M87 60h1M89 60h1M91 60h1M98 60h2M104 60h1M115 60h2M18 61h9M34 61h1M38 61h1M41 61h2M45 61h1M47 61h1M51 61h2M56 61h2M60 61h2M80 61h2M103 61h1M108 61h2M18 62h11M33 62h1M39 62h1M43 62h1M46 62h1M48 62h1M51 62h1M53 62h1M56 62h1M64 62h1M76 62h1M81 62h2M97 62h1M100 62h1M103 62h1M19 63h5M25 63h2M28 63h1M36 63h2M40 63h1M46 63h2M49 63h1M51 63h2M55 63h1M57 63h2M70 63h1M100 63h1M19 64h9M29 64h1M31 64h1M42 64h1M47 64h1M49 64h1M54 64h1M67 64h1M73 64h1M97 64h2M20 65h5M26 65h1M29 65h1M32 65h2M35 65h1M39 65h1M41 65h1M44 65h1M46 65h1M48 65h2M53 65h1M59 65h1M91 65h1M97 65h1M20 66h6M32 66h1M37 66h3M43 66h2M47 66h3M52 66h1M54 66h1M67 66h1M99 66h1M21 67h4M32 67h1M34 67h4M39 67h1M41 67h2M45 67h2M48 67h1M51 67h2M57 67h1M62 67h1M64 67h1M69 67h2M95 67h1M21 68h5M33 68h1M37 68h1M42 68h2M48 68h3M63 68h1M65 68h1M96 68h1M22 69h4M33 69h6M40 69h1M46 69h1M49 69h1M53 69h2M60 69h1M94 69h1M23 70h6M30 70h8M40 70h1M42 70h2M45 70h2M48 70h1M50 70h1M57 70h2M61 70h1M25 71h15M43 71h2M48 71h4M53 71h1M63 71h1M29 72h11M41 72h1M43 72h1M45 72h1M47 72h3M53 72h1M32 73h3M36 73h7M45 73h2M49 73h2M52 73h1M58 73h1M61 73h1M34 74h14M50 74h1M52 74h1M54 74h1M56 74h1M58 74h1M37 75h13M52 75h1M39 76h14M41 77h7M43 78h1" stroke="#ff0000" stroke-width="1" fill="none"/>
<path transform="translate(0,.5)" d="M18 7h2M13 8h6M10 9h9M7 10h11M6 11h11M6 12h10M6 13h9M6 14h8M6 15h8M5 16h8M5 17h7M5 18h7M5 19h7M6 20h5M7 21h4M7 22h4M8 23h3M8 24h3M9 25h3M10 26h2M10 27h4M10 28h4M11 29h3M11 30h4M11 31h4M32 31h2M12 32h3M33 32h1M14 33h1M34 33h1M15 34h1M34 34h2M15 35h1M35 35h2M15 36h1M36 36h1M15 37h1M15 38h1M15 39h1M15 40h1M15 41h1M15 42h1M15 43h2M113 43h2M16 44h1M113 44h2M16 45h1M113 45h2M16 46h1M114 46h1M16 47h1M114 47h2M16 48h1M114 48h2M16 49h1M114 49h2M114 50h2M27 51h2M115 51h1M27 52h2M115 52h1M28 53h1M115 53h1M28 54h1M28 55h2M29 56h1M29 57h1M29 58h2M29 59h2M30 60h1M30 61h1M30 62h1M30 63h1M30 64h1M30 65h2M26 66h6M25 67h7M26 68h6M26 69h7M29 70h1" stroke="#004da8" stroke-width="1" fill="none"/>
</g></g>
<rect x="0" y="0" width="136.2" height="82.4" fill="none" stroke="#3a3a3a" stroke-width=".8"/>
<path d="M8.5 0v-1.6M8.5 82.4v1.6M33.7 0v-1.6M33.7 82.4v1.6M58.9 0v-1.6M58.9 82.4v1.6M84.2 0v-1.6M84.2 82.4v1.6M109.4 0v-1.6M109.4 82.4v1.6M134.6 0v-1.6M134.6 82.4v1.6M0 26.2h-1.6M136.2 26.2h1.6M0 51.3h-1.6M136.2 51.3h1.6M0 76.4h-1.6M136.2 76.4h1.6" stroke="#3a3a3a" stroke-width=".6" fill="none"/>
<text class="tk" x="9.1" y="-3.0" text-anchor="middle">79°50'E</text>
<text class="tk" x="9.1" y="90.1" text-anchor="middle">79°50'E</text>
<text class="tk" x="34.3" y="-3.0" text-anchor="middle">79°55'E</text>
<text class="tk" x="34.3" y="90.1" text-anchor="middle">79°55'E</text>
<text class="tk" x="59.5" y="-3.0" text-anchor="middle">80°0'E</text>
<text class="tk" x="59.5" y="90.1" text-anchor="middle">80°0'E</text>
<text class="tk" x="84.8" y="-3.0" text-anchor="middle">80°5'E</text>
<text class="tk" x="84.8" y="90.1" text-anchor="middle">80°5'E</text>
<text class="tk" x="110.0" y="-3.0" text-anchor="middle">80°10'E</text>
<text class="tk" x="110.0" y="90.1" text-anchor="middle">80°10'E</text>
<text class="tk" x="135.2" y="-3.0" text-anchor="middle">80°15'E</text>
<text class="tk" x="135.2" y="90.1" text-anchor="middle">80°15'E</text>
<text class="tk tl" x="-1.8" y="28.1" text-anchor="end">6°55'N</text>
<text class="tk tl" x="138.6" y="28.1">6°55'N</text>
<text class="tk tl" x="-1.8" y="53.2" text-anchor="end">6°50'N</text>
<text class="tk tl" x="138.6" y="53.2">6°50'N</text>
<text class="tk tl" x="-1.8" y="78.3" text-anchor="end">6°45'N</text>
<text class="tk tl" x="138.6" y="78.3">6°45'N</text>
<text class="yr" x="60" y="8.6" text-anchor="middle">2001</text>
<text class="n" x="132.5" y="3.5" text-anchor="middle">N</text>
<path d="M132.6 4.2L130.6 11.7 132.6 9.6Z" fill="#000"/><path d="M132.6 4.2L134.6 11.7 132.6 9.6Z" fill="#fff" stroke="#000" stroke-width=".35"/>
<path d="M69.0 76.9V79.0H121.5V76.9M75.56 79.0v-1.7M82.12 79.0v-2.0M88.69 79.0v-1.7M95.25 79.0v-2.0M101.81 79.0v-1.7M108.38 79.0v-1.7M114.94 79.0v-1.7" stroke="#555" stroke-width=".5" fill="none"/>
<text class="sb" x="69.2" y="74.2" text-anchor="middle">0</text>
<text class="sb" x="82.1" y="74.2" text-anchor="middle">4.75</text>
<text class="sb" x="95.2" y="74.2" text-anchor="middle">9.5</text>
<text class="sb" x="125.0" y="74.2" text-anchor="middle">19 Km</text>
<text class="lg" x="0.2" y="97.5">Legend</text>
<rect x="0.2" y="102.0" width="6.4" height="2.8" fill="#ff0000"/>
<text class="li" x="7.8" y="105.1">Urban</text>
<rect x="21.0" y="102.0" width="6.4" height="2.8" fill="#38a800"/>
<text class="li" x="29.2" y="105.1">Vegetation</text>
<rect x="51.0" y="102.0" width="6.4" height="2.8" fill="#004da8"/>
<text class="li" x="58.8" y="105.1">Water</text>
<rect x="71.4" y="102.0" width="6.4" height="2.8" fill="#ffffff" stroke="#666" stroke-width=".35"/>
<text class="li" x="79.2" y="105.1">Clouds</text>
<rect x="94.2" y="102.0" width="6.4" height="2.8" fill="#ffaa00"/>
<text class="li" x="101.7" y="105.1">Bare Lands</text>
</g>
<g transform="translate(207.4,136.4)">
<g transform="translate(-0.40,-0.40)" clip-path="url(#cp)"><g filter="url(#bl)">
<use href="#pg" fill="#38a800" stroke="#38a800" stroke-width="5"/>
<path transform="translate(0,.5)" d="M122 5h1M15 6h6M119 6h1M121 6h1M12 7h6M20 7h3M121 7h1M9 8h4M19 8h5M121 8h1M7 9h3M19 9h6M105 9h1M108 9h1M113 9h1M121 9h2M6 10h1M18 10h7M98 10h1M100 10h2M118 10h3M122 10h1M5 11h1M17 11h7M25 11h3M97 11h1M122 11h1M5 12h1M16 12h8M28 12h2M97 12h1M121 12h2M130 12h1M5 13h1M15 13h7M23 13h3M27 13h2M30 13h1M36 13h2M99 13h1M106 13h1M111 13h1M123 13h1M5 14h1M14 14h17M35 14h1M37 14h1M40 14h1M106 14h1M120 14h2M5 15h1M14 15h3M18 15h7M26 15h1M28 15h1M33 15h2M37 15h1M40 15h1M92 15h1M96 15h1M111 15h1M120 15h3M130 15h1M13 16h8M22 16h9M34 16h1M38 16h1M40 16h1M44 16h2M49 16h1M122 16h2M12 17h4M17 17h4M24 17h1M26 17h1M32 17h4M39 17h1M44 17h1M46 17h2M50 17h1M54 17h1M68 17h1M108 17h1M110 17h1M121 17h1M12 18h4M19 18h4M35 18h1M39 18h1M41 18h2M44 18h1M49 18h1M55 18h2M60 18h1M63 18h1M90 18h1M105 18h1M121 18h1M124 18h1M12 19h1M14 19h4M19 19h6M29 19h2M34 19h1M42 19h1M44 19h2M50 19h2M55 19h1M58 19h1M114 19h1M116 19h1M123 19h1M125 19h1M131 19h1M11 20h2M16 20h5M24 20h3M31 20h1M33 20h1M38 20h1M42 20h2M45 20h3M55 20h1M58 20h1M63 20h1M74 20h1M96 20h1M101 20h1M6 21h1M11 21h4M18 21h5M29 21h1M31 21h2M39 21h1M42 21h3M48 21h1M50 21h1M68 21h1M72 21h1M13 22h4M18 22h2M21 22h4M28 22h2M32 22h1M37 22h1M43 22h1M53 22h2M57 22h1M63 22h1M65 22h1M68 22h1M74 22h1M111 22h1M131 22h1M7 23h1M11 23h1M16 23h4M23 23h3M28 23h3M39 23h1M41 23h1M44 23h1M55 23h1M57 23h1M64 23h1M74 23h1M108 23h1M123 23h1M11 24h4M16 24h6M25 24h6M34 24h2M43 24h1M45 24h1M48 24h1M57 24h1M59 24h1M61 24h1M67 24h1M69 24h1M72 24h1M74 24h1M78 24h1M116 24h1M122 24h2M8 25h1M13 25h6M20 25h4M25 25h2M29 25h1M32 25h1M35 25h1M37 25h1M40 25h2M47 25h1M50 25h2M55 25h1M93 25h1M121 25h1M127 25h1M9 26h1M13 26h6M22 26h2M26 26h2M31 26h1M33 26h1M39 26h1M42 26h2M48 26h1M50 26h1M55 26h1M57 26h1M67 26h1M72 26h2M105 26h1M14 27h5M25 27h3M32 27h1M34 27h1M37 27h1M39 27h5M46 27h1M65 27h1M71 27h1M73 27h1M78 27h1M106 27h1M14 28h3M19 28h4M24 28h3M44 28h1M59 28h1M63 28h2M72 28h1M122 28h1M124 28h1M14 29h1M23 29h3M29 29h1M44 29h1M46 29h1M49 29h1M56 29h1M75 29h1M118 29h1M19 30h2M24 30h4M36 30h1M39 30h2M42 30h1M46 30h2M53 30h1M55 30h1M59 30h1M90 30h1M115 30h1M19 31h3M23 31h1M26 31h1M28 31h1M31 31h1M35 31h2M41 31h1M43 31h2M48 31h1M56 31h1M59 31h1M68 31h1M82 31h1M84 31h1M109 31h2M15 32h3M21 32h4M29 32h1M32 32h1M42 32h1M45 32h3M53 32h1M56 32h1M61 32h1M71 32h1M78 32h1M94 32h1M12 33h1M16 33h8M25 33h2M29 33h1M33 33h1M38 33h3M44 33h2M48 33h1M52 33h1M70 33h1M111 33h1M12 34h3M18 34h3M22 34h1M25 34h3M30 34h1M39 34h2M44 34h2M50 34h1M54 34h2M66 34h1M90 34h1M96 34h1M14 35h1M16 35h1M18 35h1M20 35h4M29 35h2M37 35h3M42 35h1M51 35h1M54 35h2M57 35h1M69 35h1M71 35h2M76 35h1M87 35h1M96 35h1M109 35h1M114 35h1M116 35h1M16 36h3M23 36h3M27 36h3M31 36h1M37 36h1M40 36h1M45 36h1M50 36h1M53 36h1M61 36h1M81 36h1M110 36h1M13 37h2M17 37h4M25 37h1M27 37h2M31 37h1M53 37h2M57 37h1M72 37h1M76 37h1M92 37h1M13 38h2M18 38h1M20 38h1M26 38h3M30 38h2M34 38h2M37 38h1M42 38h1M53 38h1M55 38h1M59 38h1M66 38h2M73 38h2M78 38h1M84 38h1M88 38h1M13 39h2M18 39h1M22 39h4M28 39h1M31 39h2M35 39h1M37 39h1M44 39h1M48 39h2M52 39h1M55 39h1M74 39h1M81 39h1M84 39h1M18 40h2M22 40h4M27 40h1M31 40h3M42 40h2M47 40h1M49 40h3M54 40h1M62 40h5M68 40h1M75 40h1M97 40h1M13 41h2M19 41h6M26 41h3M35 41h3M40 41h3M48 41h5M61 41h1M75 41h1M81 41h1M94 41h1M118 41h1M14 42h1M16 42h2M21 42h5M34 42h1M44 42h1M48 42h1M52 42h1M55 42h2M59 42h2M65 42h2M68 42h1M70 42h1M74 42h1M81 42h1M83 42h2M90 42h1M17 43h3M23 43h1M25 43h1M31 43h1M41 43h2M47 43h3M53 43h3M61 43h1M67 43h1M72 43h1M77 43h1M80 43h1M92 43h1M13 44h2M17 44h5M29 44h1M32 44h1M34 44h2M37 44h2M40 44h1M43 44h1M53 44h1M58 44h1M61 44h1M70 44h1M72 44h1M86 44h1M103 44h1M13 45h3M19 45h6M28 45h1M30 45h2M34 45h1M36 45h2M45 45h2M57 45h1M59 45h2M80 45h1M96 45h1M15 46h1M17 46h4M23 46h1M25 46h1M29 46h7M38 46h2M41 46h1M43 46h1M45 46h1M49 46h1M52 46h1M66 46h1M69 46h1M76 46h1M80 46h1M97 46h1M17 47h5M25 47h8M35 47h2M39 47h3M43 47h2M48 47h1M50 47h1M65 47h1M70 47h1M85 47h1M119 47h1M15 48h1M18 48h6M27 48h3M35 48h1M39 48h1M45 48h1M84 48h1M118 48h1M15 49h1M22 49h4M27 49h4M39 49h2M44 49h1M51 49h1M54 49h1M61 49h1M63 49h1M65 49h1M81 49h1M87 49h1M90 49h1M95 49h1M120 49h1M15 50h2M19 50h2M24 50h2M27 50h2M37 50h1M39 50h3M53 50h1M55 50h1M57 50h1M77 50h1M14 51h2M19 51h4M24 51h3M29 51h1M36 51h1M38 51h2M42 51h2M48 51h2M54 51h1M57 51h2M61 51h4M78 51h1M88 51h1M15 52h3M21 52h2M24 52h3M29 52h4M36 52h1M43 52h2M53 52h2M60 52h2M86 52h3M97 52h1M111 52h1M117 52h1M16 53h4M25 53h3M33 53h1M35 53h3M44 53h1M48 53h1M51 53h1M54 53h1M61 53h1M66 53h1M75 53h1M15 54h1M18 54h6M26 54h2M29 54h1M32 54h3M38 54h1M47 54h1M50 54h1M54 54h1M61 54h1M65 54h1M81 54h1M16 55h1M19 55h6M32 55h1M38 55h2M43 55h1M50 55h1M52 55h1M54 55h1M56 55h1M63 55h2M94 55h1M107 55h1M111 55h2M116 55h1M16 56h11M30 56h1M34 56h1M39 56h2M46 56h1M48 56h1M51 56h2M58 56h1M62 56h1M74 56h1M88 56h1M93 56h1M105 56h1M109 56h1M16 57h8M25 57h1M27 57h2M31 57h4M38 57h1M42 57h1M48 57h2M99 57h1M104 57h1M114 57h1M121 57h1M22 58h2M27 58h2M31 58h4M36 58h2M39 58h2M42 58h1M45 58h1M54 58h1M56 58h1M58 58h1M62 58h1M66 58h1M69 58h1M80 58h1M82 58h1M104 58h1M17 59h2M22 59h4M32 59h4M39 59h2M42 59h1M47 59h1M52 59h1M54 59h1M56 59h2M63 59h1M66 59h1M79 59h1M81 59h1M120 59h1M18 60h1M20 60h1M24 60h2M27 60h2M32 60h3M36 60h1M40 60h1M44 60h1M48 60h1M55 60h1M58 60h2M75 60h1M81 60h1M86 60h1M105 60h1M19 61h4M28 61h1M36 61h2M41 61h1M56 61h1M61 61h1M82 61h1M84 61h2M87 61h1M101 61h1M22 62h4M31 62h2M36 62h1M38 62h1M42 62h1M51 62h1M61 62h1M64 62h1M67 62h2M84 62h1M100 62h1M19 63h2M23 63h4M33 63h1M41 63h1M47 63h1M50 63h2M55 63h1M62 63h1M73 63h1M85 63h1M19 64h1M21 64h7M35 64h1M43 64h1M47 64h1M56 64h4M64 64h1M98 64h1M21 65h6M28 65h1M32 65h3M36 65h1M66 65h1M69 65h1M72 65h1M23 66h2M37 66h1M39 66h2M51 66h1M63 66h1M91 66h2M21 67h1M33 67h1M36 67h1M48 67h3M58 67h1M65 67h1M70 67h1M97 67h1M21 68h3M36 68h1M50 68h1M65 68h1M94 68h1M22 69h1M40 69h1M47 69h1M52 69h2M57 69h1M64 69h1M27 70h2M30 70h3M34 70h2M39 70h2M51 70h1M55 70h1M57 70h1M61 70h3M27 71h5M34 71h4M40 71h2M43 71h1M29 72h4M37 72h5M44 72h1M51 72h2M61 72h1M32 73h3M39 73h2M42 73h2M46 73h1M50 73h3M55 73h1M61 73h1M34 74h5M40 74h7M48 74h4M56 74h1M37 75h9M53 75h1M55 75h1M39 76h1M41 76h2M44 76h5M50 76h3M42 77h6M43 78h1" stroke="#ff0000" stroke-width="1" fill="none"/>
<path transform="translate(0,.5)" d="M34 13h2M31 14h1M17 15h1M25 15h1M30 15h3M47 15h2M21 16h1M41 16h3M16 17h1M21 17h3M28 17h4M43 17h1M67 17h1M16 18h3M23 18h3M62 18h1M67 18h2M13 19h1M18 19h1M25 19h4M40 19h1M47 19h3M62 19h2M71 19h2M13 20h3M21 20h3M28 20h3M34 20h4M50 20h1M72 20h2M15 21h3M23 21h3M27 21h1M30 21h1M34 21h2M37 21h1M52 21h2M60 21h2M63 21h2M74 21h2M89 21h1M131 21h1M11 22h2M17 22h1M20 22h1M25 22h3M34 22h2M47 22h3M60 22h2M66 22h2M106 22h2M123 22h1M12 23h4M20 23h3M26 23h2M34 23h4M42 23h1M47 23h1M49 23h3M53 23h1M66 23h2M73 23h1M79 23h2M94 23h2M129 23h1M15 24h1M22 24h3M31 24h1M37 24h3M47 24h1M50 24h4M66 24h1M81 24h2M95 24h1M117 24h4M129 24h1M12 25h1M19 25h1M24 25h1M33 25h2M39 25h1M46 25h1M68 25h3M77 25h2M83 25h2M105 25h3M114 25h1M116 25h5M129 25h1M12 26h1M19 26h3M29 26h1M34 26h2M70 26h1M78 26h4M92 26h3M99 26h2M102 26h1M108 26h1M114 26h5M124 26h1M19 27h5M29 27h3M44 27h2M51 27h4M56 27h1M60 27h1M80 27h1M82 27h1M89 27h1M100 27h1M102 27h3M115 27h4M123 27h4M17 28h2M23 28h1M31 28h4M39 28h2M45 28h1M50 28h4M55 28h1M60 28h3M68 28h2M77 28h1M79 28h1M82 28h1M91 28h2M102 28h3M108 28h1M114 28h1M116 28h2M119 28h1M126 28h2M15 29h8M26 29h3M33 29h3M40 29h4M50 29h1M62 29h4M77 29h2M99 29h1M101 29h3M115 29h2M15 30h4M21 30h3M28 30h3M33 30h3M50 30h3M65 30h2M89 30h1M101 30h3M123 30h3M15 31h4M22 31h1M24 31h2M30 31h1M34 31h1M38 31h3M45 31h1M52 31h3M60 31h3M74 31h3M89 31h2M103 31h1M111 31h3M18 32h3M25 32h3M30 32h2M49 32h1M60 32h1M62 32h3M76 32h2M99 32h3M108 32h1M113 32h1M121 32h3M13 33h1M15 33h1M27 33h2M30 33h3M36 33h2M49 33h3M71 33h2M87 33h1M101 33h1M108 33h1M110 33h1M121 33h2M16 34h2M21 34h1M23 34h2M31 34h1M37 34h2M51 34h1M60 34h2M67 34h2M73 34h2M88 34h2M110 34h2M12 35h1M17 35h1M19 35h1M24 35h4M34 35h1M49 35h2M61 35h1M65 35h2M73 35h2M84 35h2M93 35h1M98 35h2M105 35h3M121 35h1M13 36h2M19 36h4M33 36h3M43 36h1M46 36h1M58 36h1M64 36h2M72 36h2M93 36h3M105 36h3M115 36h1M16 37h1M21 37h4M32 37h3M36 37h3M43 37h4M58 37h3M64 37h2M67 37h1M81 37h2M95 37h2M104 37h1M117 37h3M16 38h2M19 38h1M21 38h5M29 38h1M32 38h2M38 38h4M45 38h2M49 38h1M60 38h2M64 38h1M68 38h1M82 38h1M92 38h1M97 38h3M104 38h4M119 38h1M16 39h2M19 39h3M26 39h2M29 39h1M33 39h2M45 39h1M57 39h1M64 39h2M92 39h3M97 39h1M100 39h2M107 39h1M114 39h3M13 40h2M16 40h2M20 40h2M28 40h3M35 40h2M44 40h2M57 40h1M67 40h1M74 40h1M79 40h3M87 40h3M94 40h1M101 40h4M111 40h1M115 40h3M16 41h3M29 41h5M68 41h2M78 41h2M82 41h1M89 41h3M99 41h1M103 41h2M111 41h3M13 42h1M18 42h3M26 42h5M35 42h1M40 42h2M63 42h2M91 42h2M99 42h3M113 42h3M13 43h2M20 43h3M27 43h4M35 43h3M43 43h1M50 43h3M64 43h2M74 43h1M86 43h3M93 43h2M101 43h3M109 43h2M115 43h2M15 44h1M22 44h7M30 44h2M46 44h1M52 44h1M63 44h5M74 44h3M88 44h3M97 44h2M110 44h4M17 45h2M25 45h3M47 45h3M61 45h6M71 45h1M76 45h2M85 45h1M113 45h3M13 46h2M21 46h2M27 46h2M56 46h3M64 46h2M71 46h3M85 46h4M94 46h2M107 46h4M14 47h2M22 47h3M33 47h2M45 47h2M49 47h1M51 47h1M58 47h3M67 47h1M73 47h3M95 47h3M99 47h2M105 47h1M110 47h3M118 47h1M14 48h1M17 48h1M24 48h3M32 48h3M46 48h4M53 48h1M55 48h1M62 48h1M69 48h2M75 48h1M83 48h1M91 48h2M97 48h2M105 48h3M120 48h1M14 49h1M17 49h5M26 49h1M32 49h5M49 49h2M55 49h1M57 49h2M70 49h3M80 49h1M84 49h2M92 49h3M98 49h1M102 49h4M107 49h3M114 49h3M121 49h1M14 50h1M17 50h2M21 50h3M29 50h8M43 50h3M58 50h3M80 50h2M84 50h1M89 50h1M94 50h5M102 50h5M110 50h1M116 50h3M16 51h3M31 51h3M45 51h2M55 51h1M60 51h1M67 51h3M80 51h2M84 51h1M89 51h2M96 51h2M103 51h4M18 52h3M33 52h3M41 52h2M46 52h2M55 52h4M63 52h2M69 52h3M77 52h1M80 52h2M84 52h2M91 52h1M93 52h2M101 52h1M103 52h2M106 52h2M113 52h4M15 53h1M20 53h4M29 53h2M42 53h1M46 53h1M52 53h1M56 53h3M79 53h3M89 53h2M98 53h1M103 53h3M108 53h1M110 53h2M118 53h1M120 53h2M123 53h1M16 54h2M25 54h1M30 54h2M42 54h1M52 54h2M57 54h2M60 54h1M79 54h2M83 54h1M89 54h3M97 54h2M104 54h2M108 54h1M112 54h2M119 54h3M17 55h2M25 55h3M37 55h1M40 55h1M42 55h1M59 55h2M78 55h3M83 55h1M85 55h2M91 55h1M99 55h1M105 55h1M113 55h2M122 55h2M27 56h2M36 56h2M42 56h2M49 56h2M65 56h2M72 56h1M86 56h2M110 56h1M116 56h2M122 56h3M24 57h1M37 57h1M45 57h2M52 57h2M60 57h2M66 57h2M73 57h3M89 57h2M96 57h2M105 57h1M110 57h2M117 57h3M122 57h2M17 58h5M24 58h3M46 58h4M53 58h1M68 58h1M75 58h1M77 58h2M85 58h1M96 58h5M105 58h3M119 58h5M19 59h3M26 59h3M48 59h3M58 59h1M65 59h1M68 59h2M72 59h2M80 59h1M85 59h1M95 59h1M107 59h3M117 59h1M122 59h1M21 60h3M29 60h1M31 60h1M37 60h2M51 60h3M65 60h3M69 60h5M82 60h1M95 60h3M111 60h1M117 60h3M18 61h1M23 61h4M31 61h3M38 61h3M45 61h1M47 61h2M53 61h3M60 61h1M67 61h4M72 61h2M91 61h1M95 61h1M97 61h2M105 61h2M111 61h1M18 62h4M26 62h4M33 62h3M40 62h2M43 62h1M48 62h1M55 62h3M65 62h1M70 62h3M92 62h3M106 62h1M21 63h2M27 63h3M35 63h3M43 63h3M57 63h1M65 63h3M72 63h1M81 63h1M94 63h2M102 63h2M28 64h2M31 64h2M37 64h1M40 64h1M45 64h1M52 64h3M81 64h1M91 64h1M96 64h1M100 64h1M20 65h1M29 65h1M35 65h1M40 65h2M56 65h4M62 65h3M92 65h2M100 65h1M20 66h3M25 66h1M32 66h1M35 66h1M42 66h2M58 66h3M64 66h3M93 66h3M22 67h3M32 67h1M34 67h2M37 67h3M42 67h4M51 67h2M54 67h1M59 67h3M66 67h2M24 68h2M33 68h3M39 68h5M48 68h2M54 68h1M63 68h2M92 68h1M98 68h1M23 69h3M34 69h3M41 69h2M49 69h2M58 69h1M63 69h1M23 70h4M36 70h3M44 70h1M46 70h1M58 70h3M95 70h2M25 71h2M32 71h2M38 71h2M46 71h3M60 71h4M33 72h4M42 72h2M48 72h2M57 72h1M35 73h4M45 73h1M59 73h2M39 74h1M47 74h1M53 74h1M55 74h1M47 75h3M40 76h1M43 76h1M49 76h1M41 77h1" stroke="#ffffff" stroke-width="1" fill="none"/>
<path transform="translate(0,.5)" d="M18 7h2M13 8h6M10 9h9M7 10h11M6 11h11M6 12h10M6 13h9M6 14h8M6 15h8M5 16h8M5 17h7M5 18h7M5 19h7M6 20h5M7 21h4M7 22h4M8 23h3M8 24h3M9 25h3M10 26h2M10 27h4M10 28h4M11 29h3M11 30h4M11 31h4M32 31h2M12 32h3M33 32h1M14 33h1M34 33h1M15 34h1M34 34h2M15 35h1M35 35h2M15 36h1M36 36h1M15 37h1M15 38h1M15 39h1M15 40h1M15 41h1M15 42h1M15 43h2M16 44h1M16 45h1M16 46h1M16 47h1M16 48h1M16 49h1M27 51h2M27 52h2M28 53h1M28 54h1M28 55h2M29 56h1M29 57h1M29 58h2M29 59h2M30 60h1M30 61h1M30 62h1M30 63h1M30 64h1M30 65h2M26 66h6M25 67h7M26 68h6M26 69h7M29 70h1" stroke="#004da8" stroke-width="1" fill="none"/>
</g></g>
<rect x="0" y="0" width="136.2" height="82.4" fill="none" stroke="#3a3a3a" stroke-width=".8"/>
<path d="M8.5 0v-1.6M8.5 82.4v1.6M33.7 0v-1.6M33.7 82.4v1.6M58.9 0v-1.6M58.9 82.4v1.6M84.2 0v-1.6M84.2 82.4v1.6M109.4 0v-1.6M109.4 82.4v1.6M134.6 0v-1.6M134.6 82.4v1.6M0 26.2h-1.6M136.2 26.2h1.6M0 51.3h-1.6M136.2 51.3h1.6M0 76.4h-1.6M136.2 76.4h1.6" stroke="#3a3a3a" stroke-width=".6" fill="none"/>
<text class="tk" x="9.1" y="-3.0" text-anchor="middle">79°50'E</text>
<text class="tk" x="9.1" y="90.1" text-anchor="middle">79°50'E</text>
<text class="tk" x="34.3" y="-3.0" text-anchor="middle">79°55'E</text>
<text class="tk" x="34.3" y="90.1" text-anchor="middle">79°55'E</text>
<text class="tk" x="59.5" y="-3.0" text-anchor="middle">80°0'E</text>
<text class="tk" x="59.5" y="90.1" text-anchor="middle">80°0'E</text>
<text class="tk" x="84.8" y="-3.0" text-anchor="middle">80°5'E</text>
<text class="tk" x="84.8" y="90.1" text-anchor="middle">80°5'E</text>
<text class="tk" x="110.0" y="-3.0" text-anchor="middle">80°10'E</text>
<text class="tk" x="110.0" y="90.1" text-anchor="middle">80°10'E</text>
<text class="tk" x="135.2" y="-3.0" text-anchor="middle">80°15'E</text>
<text class="tk" x="135.2" y="90.1" text-anchor="middle">80°15'E</text>
<text class="tk tl" x="-1.8" y="28.1" text-anchor="end">6°55'N</text>
<text class="tk tl" x="138.6" y="28.1">6°55'N</text>
<text class="tk tl" x="-1.8" y="53.2" text-anchor="end">6°50'N</text>
<text class="tk tl" x="138.6" y="53.2">6°50'N</text>
<text class="tk tl" x="-1.8" y="78.3" text-anchor="end">6°45'N</text>
<text class="tk tl" x="138.6" y="78.3">6°45'N</text>
<text class="yr" x="60" y="8.6" text-anchor="middle">2003</text>
<text class="n" x="132.5" y="3.5" text-anchor="middle">N</text>
<path d="M132.6 4.2L130.6 11.7 132.6 9.6Z" fill="#000"/><path d="M132.6 4.2L134.6 11.7 132.6 9.6Z" fill="#fff" stroke="#000" stroke-width=".35"/>
<path d="M69.0 76.9V79.0H121.5V76.9M75.56 79.0v-1.7M82.12 79.0v-2.0M88.69 79.0v-1.7M95.25 79.0v-2.0M101.81 79.0v-1.7M108.38 79.0v-1.7M114.94 79.0v-1.7" stroke="#555" stroke-width=".5" fill="none"/>
<text class="sb" x="69.2" y="74.2" text-anchor="middle">0</text>
<text class="sb" x="82.1" y="74.2" text-anchor="middle">4.75</text>
<text class="sb" x="95.2" y="74.2" text-anchor="middle">9.5</text>
<text class="sb" x="125.0" y="74.2" text-anchor="middle">19 Km</text>
<text class="lg" x="0.2" y="97.5">Legend</text>
<rect x="0.2" y="102.0" width="6.4" height="2.8" fill="#ff0000"/>
<text class="li" x="7.8" y="105.1">Urban</text>
<rect x="21.0" y="102.0" width="6.4" height="2.8" fill="#38a800"/>
<text class="li" x="29.2" y="105.1">Vegetation</text>
<rect x="51.0" y="102.0" width="6.4" height="2.8" fill="#004da8"/>
<text class="li" x="58.8" y="105.1">Water</text>
<rect x="71.4" y="102.0" width="6.4" height="2.8" fill="#ffffff" stroke="#666" stroke-width=".35"/>
<text class="li" x="79.2" y="105.1">Clouds</text>
<rect x="94.2" y="102.0" width="6.4" height="2.8" fill="#ffaa00"/>
<text class="li" x="101.7" y="105.1">Bare Lands</text>
</g>
<g transform="translate(395.0,136.4)">
<g transform="translate(0.00,-0.40)" clip-path="url(#cp)"><g filter="url(#bl)">
<use href="#pg" fill="#38a800" stroke="#38a800" stroke-width="5"/>
<path transform="translate(0,.5)" d="M122 4h1M124 4h1M120 5h1M15 6h6M12 7h4M17 7h1M20 7h3M121 7h1M9 8h4M19 8h3M23 8h1M7 9h3M19 9h6M6 10h1M18 10h3M22 10h1M25 10h2M121 10h1M5 11h1M17 11h1M20 11h2M24 11h5M118 11h1M124 11h1M5 12h1M16 12h6M26 12h1M28 12h1M32 12h1M101 12h1M120 12h4M5 13h1M15 13h4M22 13h2M27 13h1M33 13h3M37 13h1M93 13h1M117 13h1M119 13h1M122 13h2M125 13h1M5 14h1M14 14h9M25 14h3M29 14h1M31 14h4M40 14h2M64 14h1M108 14h1M114 14h1M118 14h1M122 14h1M124 14h1M5 15h1M14 15h7M22 15h1M24 15h2M29 15h4M36 15h3M47 15h1M65 15h1M98 15h1M125 15h1M127 15h1M13 16h6M20 16h1M26 16h1M28 16h5M35 16h2M38 16h2M41 16h2M47 16h1M59 16h1M64 16h3M92 16h1M119 16h1M121 16h1M128 16h1M12 17h14M31 17h4M36 17h3M45 17h2M60 17h3M71 17h1M108 17h1M110 17h1M121 17h1M127 17h1M12 18h14M27 18h3M31 18h2M34 18h4M41 18h1M44 18h1M47 18h1M49 18h1M54 18h3M58 18h2M61 18h1M64 18h1M98 18h1M113 18h1M115 18h1M121 18h2M12 19h15M28 19h1M30 19h1M33 19h1M35 19h1M37 19h1M42 19h1M51 19h1M57 19h2M60 19h1M67 19h1M71 19h1M105 19h2M128 19h1M11 20h9M21 20h8M30 20h2M34 20h3M45 20h4M50 20h1M53 20h1M58 20h1M62 20h1M65 20h1M67 20h1M75 20h1M100 20h1M119 20h1M125 20h1M6 21h1M11 21h11M23 21h5M30 21h1M32 21h2M37 21h1M39 21h1M47 21h2M53 21h1M56 21h1M61 21h1M65 21h1M96 21h1M101 21h1M112 21h1M117 21h1M11 22h15M28 22h1M32 22h3M36 22h2M40 22h2M43 22h1M46 22h2M53 22h1M55 22h3M59 22h1M61 22h2M65 22h1M67 22h1M74 22h1M78 22h1M112 22h2M11 23h1M13 23h2M16 23h11M28 23h1M30 23h2M35 23h2M47 23h2M50 23h1M56 23h2M59 23h1M67 23h1M72 23h1M98 23h1M11 24h15M27 24h2M30 24h1M37 24h8M47 24h1M50 24h3M56 24h1M74 24h1M114 24h1M8 25h1M12 25h18M32 25h1M34 25h2M37 25h1M39 25h2M45 25h2M49 25h3M63 25h1M67 25h1M81 25h1M103 25h1M117 25h1M123 25h2M9 26h1M12 26h14M27 26h2M30 26h4M35 26h1M38 26h4M43 26h1M49 26h4M56 26h2M62 26h1M80 26h1M108 26h1M123 26h1M14 27h16M31 27h1M34 27h3M38 27h1M40 27h1M43 27h1M45 27h3M52 27h2M55 27h1M63 27h1M67 27h2M123 27h1M128 27h1M14 28h19M36 28h1M38 28h1M40 28h1M44 28h1M46 28h1M53 28h1M60 28h1M62 28h2M66 28h1M89 28h1M97 28h1M14 29h18M33 29h3M38 29h1M40 29h1M45 29h1M48 29h2M53 29h1M57 29h1M69 29h1M78 29h1M81 29h1M87 29h1M106 29h1M15 30h16M38 30h1M44 30h1M46 30h1M49 30h1M51 30h1M54 30h1M59 30h1M62 30h1M65 30h1M68 30h1M70 30h1M72 30h2M15 31h6M22 31h10M36 31h1M38 31h1M40 31h8M49 31h1M51 31h1M55 31h2M64 31h1M69 31h1M73 31h1M75 31h1M15 32h3M19 32h11M36 32h2M39 32h4M45 32h5M56 32h2M60 32h1M65 32h1M67 32h1M69 32h1M76 32h1M80 32h1M82 32h1M12 33h2M15 33h13M29 33h3M33 33h1M36 33h7M44 33h3M49 33h3M56 33h1M59 33h1M62 33h1M64 33h2M69 33h2M73 33h3M82 33h1M88 33h1M101 33h1M110 33h1M12 34h3M16 34h15M32 34h1M40 34h3M45 34h1M49 34h3M53 34h1M60 34h1M62 34h1M65 34h1M68 34h4M12 35h2M16 35h13M30 35h4M39 35h1M41 35h3M47 35h1M49 35h1M54 35h1M56 35h1M58 35h1M66 35h1M70 35h1M85 35h1M98 35h1M114 35h1M13 36h2M16 36h17M34 36h1M38 36h5M44 36h1M47 36h2M50 36h1M53 36h1M59 36h4M70 36h3M92 36h1M98 36h1M13 37h2M16 37h17M34 37h1M37 37h7M45 37h3M55 37h2M60 37h1M66 37h1M69 37h1M75 37h1M77 37h1M80 37h1M102 37h1M112 37h1M13 38h2M16 38h4M21 38h9M31 38h3M35 38h1M38 38h1M40 38h2M49 38h1M51 38h1M69 38h1M72 38h1M76 38h2M79 38h1M83 38h1M85 38h1M109 38h1M113 38h1M13 39h2M16 39h18M35 39h1M40 39h2M43 39h2M49 39h1M51 39h1M53 39h1M57 39h1M63 39h1M68 39h2M71 39h1M73 39h1M75 39h1M77 39h3M89 39h1M13 40h2M16 40h22M39 40h2M42 40h7M52 40h1M56 40h1M63 40h1M68 40h1M70 40h1M73 40h2M80 40h1M87 40h3M13 41h2M16 41h13M30 41h1M32 41h4M39 41h2M42 41h1M44 41h3M59 41h1M62 41h1M66 41h2M73 41h2M76 41h1M13 42h2M16 42h10M27 42h4M32 42h3M39 42h1M42 42h2M45 42h2M51 42h2M57 42h2M60 42h1M65 42h2M73 42h4M79 42h1M92 42h1M101 42h1M13 43h2M17 43h9M27 43h9M41 43h4M47 43h1M49 43h2M52 43h3M57 43h2M62 43h1M66 43h2M72 43h2M79 43h2M91 43h1M108 43h1M13 44h3M17 44h15M33 44h3M40 44h2M48 44h1M50 44h2M53 44h1M57 44h1M63 44h1M66 44h1M70 44h2M73 44h1M77 44h1M98 44h1M106 44h2M13 45h3M17 45h17M36 45h1M38 45h1M40 45h1M47 45h1M51 45h1M53 45h2M58 45h1M66 45h1M69 45h2M73 45h1M76 45h2M83 45h1M85 45h1M92 45h1M102 45h1M111 45h1M118 45h1M13 46h3M17 46h8M26 46h14M41 46h2M47 46h1M49 46h1M60 46h1M69 46h2M74 46h2M79 46h1M88 46h1M90 46h1M113 46h1M14 47h2M17 47h14M32 47h3M36 47h1M38 47h1M42 47h2M45 47h1M47 47h1M50 47h1M52 47h2M64 47h1M66 47h1M70 47h1M74 47h1M77 47h1M82 47h1M85 47h1M87 47h1M109 47h1M14 48h2M17 48h6M24 48h17M42 48h3M48 48h1M50 48h2M53 48h1M55 48h1M58 48h1M61 48h2M64 48h2M69 48h1M72 48h1M81 48h1M85 48h1M90 48h1M103 48h1M14 49h2M17 49h11M31 49h6M40 49h2M43 49h1M45 49h7M54 49h1M68 49h2M76 49h2M88 49h1M92 49h1M14 50h16M32 50h1M34 50h1M38 50h1M42 50h3M46 50h2M50 50h3M54 50h1M62 50h1M70 50h1M72 50h1M77 50h2M90 50h1M103 50h1M119 50h1M14 51h13M29 51h3M35 51h1M37 51h1M39 51h5M45 51h1M48 51h1M50 51h3M54 51h1M57 51h1M61 51h1M63 51h1M65 51h1M71 51h1M75 51h1M77 51h1M79 51h1M88 51h1M115 51h1M122 51h1M15 52h12M29 52h4M35 52h2M39 52h1M41 52h3M47 52h3M53 52h2M57 52h1M59 52h1M61 52h1M71 52h1M80 52h1M121 52h1M15 53h13M29 53h2M33 53h1M43 53h1M46 53h2M50 53h1M52 53h2M62 53h1M64 53h1M69 53h1M72 53h1M85 53h1M97 53h1M115 53h1M15 54h13M29 54h1M31 54h1M34 54h2M38 54h4M43 54h1M45 54h1M48 54h2M55 54h1M60 54h2M65 54h1M73 54h1M85 54h1M114 54h1M16 55h3M20 55h8M30 55h1M34 55h1M37 55h1M39 55h1M42 55h1M45 55h1M47 55h1M49 55h1M63 55h1M65 55h2M74 55h1M78 55h2M90 55h1M94 55h1M16 56h5M22 56h6M31 56h1M33 56h1M42 56h1M44 56h1M47 56h1M49 56h1M52 56h1M65 56h1M71 56h1M74 56h1M16 57h12M30 57h4M39 57h1M46 57h1M49 57h2M53 57h1M56 57h1M58 57h1M60 57h1M62 57h1M67 57h2M71 57h1M80 57h1M93 57h1M99 57h1M106 57h1M113 57h1M17 58h10M28 58h1M31 58h2M34 58h3M39 58h2M44 58h2M50 58h1M54 58h1M59 58h1M65 58h1M73 58h1M78 58h1M82 58h1M84 58h1M88 58h1M92 58h1M94 58h1M122 58h1M17 59h12M32 59h1M36 59h1M39 59h3M43 59h1M45 59h1M47 59h2M58 59h1M60 59h1M69 59h1M75 59h1M78 59h1M83 59h2M88 59h1M97 59h1M18 60h7M26 60h3M31 60h1M33 60h1M36 60h2M44 60h1M47 60h1M49 60h1M51 60h4M66 60h1M69 60h1M74 60h2M78 60h1M88 60h1M94 60h1M115 60h1M18 61h5M24 61h2M28 61h1M44 61h1M47 61h1M52 61h1M77 61h1M79 61h1M81 61h1M85 61h1M103 61h1M108 61h1M18 62h11M31 62h3M40 62h1M45 62h1M47 62h2M52 62h1M66 62h1M68 62h1M79 62h1M19 63h6M28 63h2M33 63h2M39 63h1M42 63h1M45 63h1M49 63h1M55 63h1M60 63h1M62 63h1M66 63h1M68 63h1M77 63h2M80 63h1M19 64h6M26 64h4M32 64h1M34 64h3M38 64h1M42 64h1M47 64h1M51 64h1M56 64h1M60 64h1M64 64h1M67 64h1M101 64h1M20 65h10M33 65h1M36 65h1M40 65h2M49 65h4M64 65h1M70 65h1M20 66h6M35 66h1M44 66h1M49 66h2M57 66h1M59 66h1M21 67h4M32 67h1M35 67h1M41 67h2M46 67h1M52 67h3M60 67h1M70 67h1M21 68h5M32 68h2M35 68h2M38 68h1M41 68h1M43 68h1M45 68h1M48 68h1M51 68h1M53 68h1M56 68h1M58 68h1M61 68h1M94 68h1M22 69h4M36 69h1M38 69h3M46 69h1M53 69h1M56 69h1M58 69h3M97 69h1M23 70h6M30 70h3M34 70h6M41 70h3M45 70h2M51 70h1M54 70h2M61 70h1M66 70h1M25 71h14M40 71h1M46 71h3M52 71h2M29 72h6M36 72h7M44 72h1M47 72h1M49 72h4M54 72h1M60 72h1M32 73h10M43 73h5M49 73h4M54 73h3M58 73h1M34 74h12M49 74h1M55 74h1M57 74h2M37 75h10M48 75h5M55 75h1M39 76h14M41 77h7M43 78h1" stroke="#ff0000" stroke-width="1" fill="none"/>
<path transform="translate(0,.5)" d="M119 35h1M110 39h3M110 40h2" stroke="#ffffff" stroke-width="1" fill="none"/>
<path transform="translate(0,.5)" d="M18 7h2M13 8h6M10 9h9M7 10h11M6 11h11M6 12h10M6 13h9M6 14h8M6 15h8M5 16h8M5 17h7M5 18h7M5 19h7M6 20h5M7 21h4M7 22h4M8 23h3M8 24h3M9 25h3M10 26h2M10 27h4M10 28h4M11 29h3M11 30h4M11 31h4M32 31h2M12 32h3M33 32h1M14 33h1M34 33h1M15 34h1M34 34h2M15 35h1M35 35h2M15 36h1M36 36h1M15 37h1M15 38h1M15 39h1M15 40h1M15 41h1M15 42h1M15 43h2M114 43h2M16 44h1M114 44h2M16 45h1M114 45h2M16 46h1M115 46h2M16 47h1M115 47h2M16 48h1M115 48h2M16 49h1M115 49h2M115 50h2M27 51h2M116 51h1M27 52h2M116 52h1M28 53h1M116 53h1M28 54h1M28 55h2M29 56h1M119 56h3M29 57h1M119 57h3M29 58h2M29 59h2M30 60h1M30 61h1M30 62h1M30 63h1M30 64h1M30 65h2M26 66h6M25 67h7M26 68h6M26 69h7M29 70h1" stroke="#004da8" stroke-width="1" fill="none"/>
</g></g>
<rect x="0" y="0" width="136.8" height="82.4" fill="none" stroke="#3a3a3a" stroke-width=".8"/>
<path d="M8.5 0v-1.6M8.5 82.4v1.6M33.7 0v-1.6M33.7 82.4v1.6M58.9 0v-1.6M58.9 82.4v1.6M84.2 0v-1.6M84.2 82.4v1.6M109.4 0v-1.6M109.4 82.4v1.6M134.6 0v-1.6M134.6 82.4v1.6M0 26.2h-1.6M136.8 26.2h1.6M0 51.3h-1.6M136.8 51.3h1.6M0 76.4h-1.6M136.8 76.4h1.6" stroke="#3a3a3a" stroke-width=".6" fill="none"/>
<text class="tk" x="9.1" y="-3.0" text-anchor="middle">79°50'E</text>
<text class="tk" x="9.1" y="90.1" text-anchor="middle">79°50'E</text>
<text class="tk" x="34.3" y="-3.0" text-anchor="middle">79°55'E</text>
<text class="tk" x="34.3" y="90.1" text-anchor="middle">79°55'E</text>
<text class="tk" x="59.5" y="-3.0" text-anchor="middle">80°0'E</text>
<text class="tk" x="59.5" y="90.1" text-anchor="middle">80°0'E</text>
<text class="tk" x="84.8" y="-3.0" text-anchor="middle">80°5'E</text>
<text class="tk" x="84.8" y="90.1" text-anchor="middle">80°5'E</text>
<text class="tk" x="110.0" y="-3.0" text-anchor="middle">80°10'E</text>
<text class="tk" x="110.0" y="90.1" text-anchor="middle">80°10'E</text>
<text class="tk" x="135.2" y="-3.0" text-anchor="middle">80°15'E</text>
<text class="tk" x="135.2" y="90.1" text-anchor="middle">80°15'E</text>
<text class="tk tl" x="-1.8" y="28.1" text-anchor="end">6°55'N</text>
<text class="tk tl" x="139.2" y="28.1">6°55'N</text>
<text class="tk tl" x="-1.8" y="53.2" text-anchor="end">6°50'N</text>
<text class="tk tl" x="139.2" y="53.2">6°50'N</text>
<text class="tk tl" x="-1.8" y="78.3" text-anchor="end">6°45'N</text>
<text class="tk tl" x="139.2" y="78.3">6°45'N</text>
<text class="yr" x="60" y="8.6" text-anchor="middle">2008</text>
<text class="n" x="132.5" y="3.5" text-anchor="middle">N</text>
<path d="M132.6 4.2L130.6 11.7 132.6 9.6Z" fill="#000"/><path d="M132.6 4.2L134.6 11.7 132.6 9.6Z" fill="#fff" stroke="#000" stroke-width=".35"/>
<path d="M69.0 76.9V79.0H121.5V76.9M75.56 79.0v-1.7M82.12 79.0v-2.0M88.69 79.0v-1.7M95.25 79.0v-2.0M101.81 79.0v-1.7M108.38 79.0v-1.7M114.94 79.0v-1.7" stroke="#555" stroke-width=".5" fill="none"/>
<text class="sb" x="69.2" y="74.2" text-anchor="middle">0</text>
<text class="sb" x="82.1" y="74.2" text-anchor="middle">4.75</text>
<text class="sb" x="95.2" y="74.2" text-anchor="middle">9.5</text>
<text class="sb" x="125.0" y="74.2" text-anchor="middle">19 Km</text>
<text class="lg" x="0.2" y="97.5">Legend</text>
<rect x="0.2" y="102.0" width="6.4" height="2.8" fill="#ff0000"/>
<text class="li" x="7.8" y="105.1">Urban</text>
<rect x="21.0" y="102.0" width="6.4" height="2.8" fill="#38a800"/>
<text class="li" x="29.2" y="105.1">Vegetation</text>
<rect x="51.0" y="102.0" width="6.4" height="2.8" fill="#004da8"/>
<text class="li" x="58.8" y="105.1">Water</text>
<rect x="71.4" y="102.0" width="6.4" height="2.8" fill="#ffffff" stroke="#666" stroke-width=".35"/>
<text class="li" x="79.2" y="105.1">Clouds</text>
<rect x="94.2" y="102.0" width="6.4" height="2.8" fill="#ffaa00"/>
<text class="li" x="101.7" y="105.1">Bare Lands</text>
</g>
<g transform="translate(23.5,258.6)">
<g transform="translate(0.50,0.40)" clip-path="url(#cp)"><g filter="url(#bl)">
<use href="#pg" fill="#38a800" stroke="#38a800" stroke-width="5"/>
<path transform="translate(0,.5)" d="M120 5h1M15 6h6M124 6h1M12 7h6M20 7h3M123 7h1M9 8h4M19 8h4M121 8h2M124 8h1M7 9h3M19 9h3M23 9h1M101 9h1M104 9h1M6 10h1M18 10h2M21 10h4M112 10h1M121 10h4M127 10h1M5 11h1M17 11h6M25 11h1M98 11h1M115 11h1M121 11h3M5 12h1M17 12h6M24 12h1M26 12h2M31 12h1M33 12h1M101 12h1M123 12h2M5 13h1M15 13h7M24 13h4M29 13h4M34 13h2M97 13h1M118 13h1M124 13h1M5 14h1M14 14h12M27 14h1M29 14h3M33 14h2M63 14h1M65 14h1M121 14h1M5 15h1M14 15h9M26 15h2M34 15h1M38 15h2M41 15h2M61 15h1M67 15h1M101 15h1M107 15h1M13 16h10M25 16h1M27 16h1M29 16h2M32 16h1M34 16h1M36 16h4M41 16h1M44 16h3M49 16h2M55 16h1M63 16h1M66 16h1M95 16h1M12 17h10M25 17h1M28 17h1M33 17h3M38 17h1M41 17h1M43 17h2M46 17h1M57 17h1M60 17h2M66 17h1M69 17h1M71 17h1M95 17h1M106 17h1M115 17h1M129 17h1M12 18h10M25 18h4M32 18h1M34 18h2M37 18h1M40 18h1M42 18h1M61 18h1M67 18h1M117 18h1M121 18h1M12 19h10M25 19h1M27 19h5M33 19h2M36 19h5M42 19h2M48 19h1M52 19h1M59 19h1M69 19h1M72 19h1M114 19h1M11 20h11M23 20h4M33 20h1M35 20h1M40 20h5M47 20h1M49 20h1M60 20h1M108 20h1M6 21h1M11 21h11M24 21h1M28 21h4M33 21h4M48 21h1M52 21h1M54 21h2M63 21h2M72 21h1M90 21h1M93 21h1M108 21h1M11 22h10M22 22h2M25 22h1M27 22h3M31 22h1M34 22h1M37 22h2M41 22h3M45 22h2M48 22h1M56 22h1M108 22h1M129 22h1M7 23h1M11 23h13M25 23h2M28 23h1M30 23h3M34 23h2M41 23h3M45 23h1M47 23h1M61 23h1M68 23h1M72 23h1M92 23h1M11 24h7M19 24h2M23 24h6M30 24h2M34 24h3M39 24h1M42 24h1M44 24h1M47 24h1M54 24h1M58 24h1M60 24h1M73 24h1M75 24h1M80 24h1M109 24h1M8 25h1M12 25h9M23 25h7M34 25h4M41 25h3M46 25h2M49 25h1M54 25h1M61 25h2M65 25h1M68 25h1M95 25h1M127 25h1M9 26h1M12 26h9M22 26h4M27 26h2M32 26h1M37 26h1M40 26h1M43 26h2M47 26h1M51 26h1M54 26h1M63 26h1M83 26h1M14 27h17M36 27h1M44 27h1M46 27h1M48 27h1M55 27h1M67 27h3M76 27h1M82 27h1M85 27h1M98 27h1M14 28h5M20 28h9M30 28h3M34 28h1M38 28h1M40 28h2M44 28h3M48 28h1M64 28h1M70 28h1M73 28h1M80 28h1M91 28h1M14 29h14M29 29h1M33 29h1M39 29h1M43 29h1M45 29h3M52 29h2M55 29h2M64 29h1M67 29h1M70 29h1M81 29h1M118 29h1M15 30h11M30 30h3M35 30h1M37 30h2M40 30h2M43 30h4M49 30h1M53 30h1M57 30h1M69 30h1M71 30h1M73 30h1M89 30h1M92 30h1M115 30h1M117 30h1M15 31h11M29 31h3M34 31h1M37 31h4M44 31h1M48 31h2M52 31h1M74 31h1M113 31h1M15 32h12M28 32h2M31 32h1M34 32h4M39 32h2M42 32h2M52 32h1M55 32h2M59 32h1M63 32h2M66 32h1M69 32h1M74 32h1M85 32h1M90 32h1M98 32h1M12 33h2M15 33h16M33 33h1M37 33h4M42 33h1M45 33h1M50 33h2M59 33h1M64 33h1M71 33h1M82 33h1M85 33h2M98 33h1M110 33h1M12 34h3M16 34h14M31 34h3M37 34h1M39 34h2M45 34h1M47 34h1M49 34h2M53 34h3M57 34h1M59 34h2M68 34h1M71 34h1M76 34h1M116 34h1M12 35h3M16 35h17M37 35h1M41 35h1M43 35h1M48 35h4M53 35h3M57 35h1M61 35h1M76 35h1M80 35h1M83 35h1M87 35h1M91 35h1M95 35h1M107 35h2M121 35h1M13 36h2M16 36h13M30 36h1M32 36h1M34 36h2M37 36h4M45 36h1M47 36h1M49 36h1M52 36h1M55 36h1M58 36h1M71 36h1M83 36h1M87 36h1M96 36h1M105 36h1M13 37h2M16 37h13M30 37h3M35 37h1M37 37h1M39 37h1M42 37h3M46 37h3M50 37h1M52 37h1M55 37h3M63 37h1M65 37h1M68 37h2M74 37h1M81 37h1M106 37h1M13 38h2M16 38h4M21 38h7M29 38h1M31 38h3M36 38h3M41 38h2M46 38h2M52 38h1M63 38h1M68 38h1M80 38h1M84 38h1M107 38h1M13 39h2M16 39h2M19 39h5M25 39h4M31 39h2M34 39h4M40 39h1M42 39h1M44 39h5M50 39h4M57 39h1M64 39h1M69 39h1M77 39h1M81 39h1M13 40h2M16 40h12M29 40h2M33 40h5M43 40h3M47 40h1M49 40h2M52 40h2M59 40h1M62 40h1M64 40h1M66 40h1M76 40h1M79 40h1M83 40h1M13 41h2M16 41h18M35 41h1M39 41h2M43 41h3M49 41h1M51 41h2M57 41h2M60 41h1M13 42h2M16 42h8M25 42h6M32 42h6M39 42h2M42 42h1M45 42h1M47 42h3M51 42h2M58 42h1M62 42h1M72 42h1M78 42h3M86 42h1M91 42h1M93 42h1M106 42h1M13 43h2M17 43h11M30 43h1M32 43h2M35 43h3M41 43h1M44 43h1M47 43h1M51 43h1M53 43h1M55 43h1M59 43h2M84 43h1M107 43h2M13 44h3M17 44h11M29 44h3M34 44h2M43 44h1M47 44h1M49 44h4M54 44h2M79 44h1M82 44h1M101 44h1M111 44h1M116 44h1M13 45h3M17 45h17M36 45h4M43 45h1M45 45h2M50 45h1M52 45h1M56 45h1M62 45h1M65 45h2M77 45h1M13 46h3M17 46h12M30 46h3M34 46h1M36 46h2M41 46h1M43 46h1M45 46h1M48 46h1M62 46h1M73 46h1M78 46h1M88 46h2M91 46h1M105 46h1M14 47h2M17 47h13M32 47h1M39 47h1M42 47h1M44 47h2M48 47h1M51 47h1M57 47h1M60 47h1M62 47h2M66 47h1M75 47h1M81 47h1M87 47h1M89 47h1M100 47h1M112 47h1M14 48h2M17 48h12M32 48h3M37 48h1M49 48h2M55 48h1M60 48h1M66 48h1M73 48h1M76 48h1M78 48h1M116 48h1M14 49h2M17 49h9M27 49h2M35 49h2M38 49h2M41 49h2M44 49h2M47 49h1M50 49h1M56 49h1M61 49h3M65 49h1M77 49h1M95 49h1M98 49h1M116 49h1M14 50h16M33 50h2M36 50h3M41 50h1M44 50h2M48 50h1M52 50h1M61 50h1M64 50h2M77 50h1M81 50h1M86 50h1M98 50h1M117 50h1M14 51h6M21 51h1M23 51h4M29 51h2M33 51h4M41 51h1M46 51h1M48 51h1M57 51h1M61 51h1M66 51h1M69 51h1M71 51h1M73 51h1M81 51h1M89 51h1M96 51h1M100 51h1M15 52h11M32 52h3M36 52h1M39 52h1M41 52h2M46 52h1M49 52h2M57 52h1M63 52h1M72 52h1M92 52h1M119 52h1M15 53h13M29 53h2M32 53h1M35 53h1M37 53h5M43 53h1M47 53h1M49 53h1M56 53h2M64 53h1M72 53h1M85 53h2M15 54h12M34 54h1M36 54h1M40 54h1M43 54h5M57 54h1M66 54h1M74 54h1M80 54h1M87 54h1M91 54h1M112 54h1M16 55h7M24 55h4M31 55h1M34 55h1M37 55h6M49 55h2M53 55h2M59 55h1M61 55h1M64 55h2M75 55h1M79 55h2M83 55h1M92 55h1M16 56h13M33 56h1M36 56h1M39 56h3M44 56h1M47 56h1M50 56h1M53 56h3M57 56h3M62 56h1M68 56h1M101 56h1M16 57h13M30 57h1M32 57h1M34 57h1M36 57h2M41 57h1M43 57h2M52 57h2M68 57h1M86 57h1M97 57h1M110 57h1M17 58h7M25 58h4M31 58h5M46 58h1M49 58h1M56 58h1M61 58h1M65 58h2M72 58h1M76 58h1M107 58h1M114 58h1M17 59h12M31 59h1M33 59h1M35 59h2M39 59h3M44 59h2M57 59h2M60 59h1M18 60h12M33 60h1M35 60h1M38 60h1M40 60h1M50 60h1M52 60h1M55 60h1M62 60h1M66 60h1M81 60h1M88 60h1M96 60h1M18 61h12M33 61h1M41 61h1M50 61h1M57 61h1M65 61h1M82 61h1M84 61h1M98 61h1M107 61h1M18 62h11M31 62h1M34 62h1M37 62h4M43 62h1M48 62h1M50 62h2M56 62h2M59 62h1M73 62h2M82 62h1M88 62h1M91 62h1M19 63h9M29 63h1M33 63h1M35 63h2M38 63h1M41 63h2M44 63h1M51 63h1M54 63h1M60 63h1M66 63h1M81 63h1M19 64h8M28 64h1M31 64h2M35 64h1M37 64h1M40 64h1M42 64h1M45 64h1M47 64h1M53 64h2M56 64h1M61 64h2M65 64h1M68 64h1M70 64h1M72 64h1M20 65h10M38 65h1M42 65h1M45 65h1M48 65h1M56 65h1M73 65h1M98 65h1M20 66h6M33 66h1M36 66h1M41 66h2M46 66h1M49 66h1M54 66h1M61 66h1M22 67h3M32 67h2M36 67h1M42 67h1M44 67h2M47 67h1M56 67h1M59 67h1M21 68h5M33 68h1M35 68h2M43 68h1M50 68h1M92 68h1M22 69h4M33 69h1M41 69h1M61 69h1M23 70h6M30 70h3M34 70h1M39 70h1M45 70h1M47 70h1M49 70h1M53 70h2M62 70h1M65 70h1M25 71h11M37 71h2M42 71h1M46 71h4M53 71h1M29 72h11M41 72h7M51 72h1M60 72h1M32 73h12M45 73h4M50 73h1M55 73h3M34 74h13M50 74h1M53 74h1M56 74h3M37 75h4M42 75h4M47 75h4M52 75h1M39 76h14M41 77h7M43 78h1" stroke="#ff0000" stroke-width="1" fill="none"/>
<path transform="translate(0,.5)" d="M107 16h2M107 17h2M104 19h2M104 20h3M105 21h1M111 23h1M21 24h2M110 24h2M21 25h2M113 25h1M21 26h1M113 26h2M102 32h1M101 33h2M31 40h1" stroke="#ffffff" stroke-width="1" fill="none"/>
<path transform="translate(0,.5)" d="M18 7h2M13 8h6M10 9h9M7 10h11M6 11h11M6 12h10M6 13h9M6 14h8M6 15h8M5 16h8M5 17h7M5 18h7M5 19h7M6 20h5M7 21h4M7 22h4M8 23h3M8 24h3M9 25h3M10 26h2M10 27h4M10 28h4M11 29h3M11 30h4M11 31h4M32 31h2M12 32h3M33 32h1M14 33h1M34 33h1M15 34h1M34 34h2M15 35h1M35 35h2M15 36h1M36 36h1M15 37h1M15 38h1M15 39h1M15 40h1M15 41h1M15 42h1M15 43h2M16 44h1M113 44h2M16 45h1M113 45h3M16 46h1M114 46h2M16 47h1M114 47h2M16 48h1M114 48h2M16 49h1M114 49h2M114 50h2M27 51h2M114 51h2M27 52h2M115 52h1M28 53h1M115 53h2M28 54h1M115 54h2M28 55h2M29 56h1M29 57h1M29 58h2M29 59h2M30 60h1M30 61h1M30 62h1M30 63h1M30 64h1M30 65h2M26 66h6M25 67h7M26 68h6M26 69h7M29 70h1" stroke="#004da8" stroke-width="1" fill="none"/>
</g></g>
<rect x="0" y="0" width="136.2" height="82.9" fill="none" stroke="#3a3a3a" stroke-width=".8"/>
<path d="M8.5 0v-1.6M8.5 82.9v1.6M33.7 0v-1.6M33.7 82.9v1.6M58.9 0v-1.6M58.9 82.9v1.6M84.2 0v-1.6M84.2 82.9v1.6M109.4 0v-1.6M109.4 82.9v1.6M134.6 0v-1.6M134.6 82.9v1.6M0 26.2h-1.6M136.2 26.2h1.6M0 51.3h-1.6M136.2 51.3h1.6M0 76.4h-1.6M136.2 76.4h1.6" stroke="#3a3a3a" stroke-width=".6" fill="none"/>
<text class="tk" x="9.1" y="-3.0" text-anchor="middle">79°50'E</text>
<text class="tk" x="9.1" y="90.6" text-anchor="middle">79°50'E</text>
<text class="tk" x="34.3" y="-3.0" text-anchor="middle">79°55'E</text>
<text class="tk" x="34.3" y="90.6" text-anchor="middle">79°55'E</text>
<text class="tk" x="59.5" y="-3.0" text-anchor="middle">80°0'E</text>
<text class="tk" x="59.5" y="90.6" text-anchor="middle">80°0'E</text>
<text class="tk" x="84.8" y="-3.0" text-anchor="middle">80°5'E</text>
<text class="tk" x="84.8" y="90.6" text-anchor="middle">80°5'E</text>
<text class="tk" x="110.0" y="-3.0" text-anchor="middle">80°10'E</text>
<text class="tk" x="110.0" y="90.6" text-anchor="middle">80°10'E</text>
<text class="tk" x="135.2" y="-3.0" text-anchor="middle">80°15'E</text>
<text class="tk" x="135.2" y="90.6" text-anchor="middle">80°15'E</text>
<text class="tk tl" x="-1.8" y="28.1" text-anchor="end">6°55'N</text>
<text class="tk tl" x="138.6" y="28.1">6°55'N</text>
<text class="tk tl" x="-1.8" y="53.2" text-anchor="end">6°50'N</text>
<text class="tk tl" x="138.6" y="53.2">6°50'N</text>
<text class="tk tl" x="-1.8" y="78.3" text-anchor="end">6°45'N</text>
<text class="tk tl" x="138.6" y="78.3">6°45'N</text>
<text class="yr" x="60" y="8.6" text-anchor="middle">2011</text>
<text class="n" x="132.5" y="3.5" text-anchor="middle">N</text>
<path d="M132.6 4.2L130.6 11.7 132.6 9.6Z" fill="#000"/><path d="M132.6 4.2L134.6 11.7 132.6 9.6Z" fill="#fff" stroke="#000" stroke-width=".35"/>
<path d="M69.0 76.9V79.0H121.5V76.9M75.56 79.0v-1.7M82.12 79.0v-2.0M88.69 79.0v-1.7M95.25 79.0v-2.0M101.81 79.0v-1.7M108.38 79.0v-1.7M114.94 79.0v-1.7" stroke="#555" stroke-width=".5" fill="none"/>
<text class="sb" x="69.2" y="74.2" text-anchor="middle">0</text>
<text class="sb" x="82.1" y="74.2" text-anchor="middle">4.75</text>
<text class="sb" x="95.2" y="74.2" text-anchor="middle">9.5</text>
<text class="sb" x="125.0" y="74.2" text-anchor="middle">19 Km</text>
<text class="lg" x="0.2" y="97.5">Legend</text>
<rect x="0.2" y="102.0" width="6.4" height="2.8" fill="#ff0000"/>
<text class="li" x="7.8" y="105.1">Urban</text>
<rect x="21.0" y="102.0" width="6.4" height="2.8" fill="#38a800"/>
<text class="li" x="29.2" y="105.1">Vegetation</text>
<rect x="51.0" y="102.0" width="6.4" height="2.8" fill="#004da8"/>
<text class="li" x="58.8" y="105.1">Water</text>
<rect x="71.4" y="102.0" width="6.4" height="2.8" fill="#ffffff" stroke="#666" stroke-width=".35"/>
<text class="li" x="79.2" y="105.1">Clouds</text>
<rect x="94.2" y="102.0" width="6.4" height="2.8" fill="#ffaa00"/>
<text class="li" x="101.7" y="105.1">Bare Lands</text>
</g>
<g transform="translate(207.4,258.8)">
<g transform="translate(-0.40,0.20)" clip-path="url(#cp)"><g filter="url(#bl)">
<use href="#pg" fill="#38a800" stroke="#38a800" stroke-width="5"/>
<path transform="translate(0,.5)" d="M122 4h2M15 6h4M20 6h1M123 6h1M12 7h1M14 7h3M19 7h4M9 8h4M18 8h6M106 8h1M116 8h1M123 8h1M126 8h1M7 9h3M18 9h3M23 9h2M106 9h1M123 9h2M128 9h1M6 10h1M17 10h6M24 10h3M96 10h1M106 10h1M117 10h1M119 10h1M122 10h1M124 10h2M5 11h1M16 11h9M27 11h2M124 11h1M126 11h2M5 12h1M15 12h5M21 12h3M25 12h2M28 12h1M31 12h1M33 12h1M115 12h1M121 12h1M123 12h1M126 12h1M5 13h1M14 13h10M26 13h2M30 13h1M32 13h2M35 13h1M37 13h2M95 13h1M100 13h1M105 13h1M110 13h1M115 13h1M121 13h3M125 13h1M128 13h1M5 14h1M13 14h10M26 14h1M28 14h1M30 14h3M34 14h5M66 14h1M101 14h1M104 14h1M116 14h2M121 14h1M123 14h1M125 14h2M5 15h1M12 15h12M28 15h2M32 15h3M36 15h1M38 15h2M41 15h2M47 15h1M62 15h1M91 15h2M104 15h1M111 15h1M115 15h2M121 15h1M123 15h2M11 16h14M28 16h2M31 16h3M103 16h1M119 16h1M122 16h2M10 17h1M12 17h11M24 17h11M36 17h1M39 17h3M43 17h3M50 17h2M54 17h2M61 17h1M67 17h1M71 17h1M92 17h2M100 17h1M127 17h1M10 18h13M24 18h5M30 18h7M39 18h2M42 18h1M45 18h2M48 18h1M53 18h1M57 18h1M59 18h2M62 18h1M66 18h2M90 18h1M94 18h2M115 18h4M120 18h2M125 18h1M129 18h1M5 19h1M9 19h24M35 19h1M37 19h1M40 19h1M52 19h1M56 19h1M62 19h1M66 19h1M90 19h1M94 19h2M103 19h2M131 19h1M9 20h23M33 20h4M41 20h2M46 20h1M49 20h4M55 20h2M59 20h2M75 20h1M91 20h1M114 20h1M117 20h4M127 20h1M6 21h4M11 21h10M22 21h8M31 21h1M34 21h3M41 21h1M45 21h1M47 21h2M56 21h1M58 21h1M60 21h1M76 21h1M106 21h2M7 22h25M34 22h1M36 22h3M41 22h2M45 22h1M49 22h1M54 22h1M58 22h2M61 22h2M64 22h1M77 22h1M89 22h3M97 22h1M102 22h1M108 22h2M113 22h1M117 22h1M7 23h3M11 23h26M40 23h2M45 23h1M50 23h2M56 23h1M58 23h1M65 23h4M77 23h1M89 23h1M96 23h1M112 23h1M115 23h1M123 23h1M8 24h9M19 24h12M34 24h1M38 24h5M45 24h3M49 24h3M55 24h1M58 24h2M61 24h4M66 24h3M75 24h1M96 24h1M102 24h1M110 24h1M116 24h1M127 24h1M8 25h28M37 25h4M43 25h4M48 25h1M55 25h1M57 25h1M59 25h1M64 25h1M67 25h2M72 25h1M76 25h1M95 25h1M100 25h1M106 25h1M108 25h1M117 25h1M9 26h6M16 26h16M33 26h4M39 26h1M42 26h5M52 26h1M56 26h1M58 26h1M62 26h2M65 26h1M67 26h3M100 26h1M10 27h3M15 27h8M24 27h4M29 27h2M32 27h1M34 27h5M40 27h4M47 27h1M54 27h2M58 27h3M62 27h1M66 27h2M71 27h1M74 27h1M77 27h1M83 27h2M89 27h1M123 27h2M10 28h3M14 28h22M37 28h1M39 28h5M46 28h1M51 28h3M55 28h2M58 28h1M60 28h2M64 28h1M67 28h3M74 28h1M77 28h1M80 28h1M82 28h1M87 28h2M11 29h2M14 29h19M34 29h4M40 29h1M43 29h2M46 29h1M51 29h1M53 29h3M58 29h1M60 29h1M62 29h1M64 29h1M66 29h1M72 29h1M77 29h2M82 29h3M93 29h1M96 29h1M104 29h1M11 30h2M15 30h7M24 30h9M34 30h1M38 30h2M41 30h3M46 30h2M49 30h1M51 30h4M56 30h1M59 30h3M66 30h1M68 30h1M73 30h1M80 30h2M87 30h1M96 30h1M99 30h1M107 30h1M121 30h1M125 30h1M11 31h2M15 31h7M24 31h5M30 31h2M35 31h11M49 31h3M55 31h3M59 31h1M61 31h3M66 31h4M77 31h1M86 31h1M91 31h1M109 31h1M117 31h1M12 32h2M15 32h12M28 32h3M32 32h1M34 32h1M37 32h1M39 32h1M41 32h2M45 32h1M47 32h1M49 32h2M52 32h1M55 32h1M57 32h1M59 32h2M63 32h1M65 32h1M68 32h1M71 32h1M74 32h2M84 32h1M86 32h1M93 32h1M97 32h1M122 32h1M12 33h2M15 33h19M35 33h5M42 33h1M44 33h6M51 33h4M56 33h1M58 33h2M63 33h2M80 33h1M82 33h1M92 33h1M97 33h1M100 33h1M12 34h3M16 34h16M33 34h1M36 34h1M39 34h3M43 34h2M46 34h1M50 34h1M53 34h1M55 34h1M58 34h1M61 34h2M64 34h3M68 34h1M72 34h1M74 34h1M81 34h1M101 34h1M103 34h1M105 34h1M111 34h1M114 34h1M12 35h3M18 35h17M37 35h2M41 35h3M47 35h3M53 35h3M60 35h1M68 35h2M77 35h2M82 35h2M85 35h1M90 35h1M97 35h1M105 35h3M109 35h1M13 36h2M16 36h2M19 36h17M37 36h3M41 36h1M44 36h11M56 36h1M58 36h1M66 36h1M71 36h1M73 36h1M75 36h2M79 36h1M81 36h1M92 36h1M110 36h1M13 37h2M17 37h2M23 37h8M32 37h6M40 37h1M42 37h4M50 37h4M55 37h1M57 37h1M59 37h1M61 37h1M66 37h1M70 37h1M74 37h1M89 37h1M91 37h1M94 37h1M117 37h1M13 38h2M16 38h3M23 38h17M41 38h9M51 38h2M54 38h2M57 38h1M64 38h2M67 38h1M83 38h1M87 38h1M102 38h1M13 39h2M16 39h4M23 39h4M28 39h3M33 39h7M43 39h4M48 39h2M51 39h2M56 39h1M58 39h1M67 39h1M70 39h3M74 39h1M76 39h1M82 39h1M84 39h1M87 39h2M105 39h1M14 40h1M16 40h5M22 40h2M25 40h14M40 40h3M44 40h1M46 40h2M50 40h2M56 40h1M58 40h1M70 40h3M74 40h1M76 40h1M103 40h1M113 40h2M119 40h1M14 41h1M16 41h15M32 41h5M38 41h1M40 41h2M43 41h3M50 41h1M52 41h2M55 41h2M58 41h1M64 41h2M69 41h1M72 41h1M82 41h1M89 41h1M104 41h1M14 42h1M17 42h17M35 42h1M37 42h6M44 42h2M52 42h3M65 42h1M68 42h1M70 42h3M85 42h1M14 43h1M17 43h5M23 43h2M26 43h8M35 43h5M42 43h2M45 43h2M48 43h1M50 43h1M53 43h3M57 43h1M65 43h1M72 43h1M81 43h4M86 43h1M94 43h1M102 43h1M104 43h1M108 43h1M110 43h1M13 44h3M17 44h3M21 44h10M32 44h11M44 44h1M46 44h1M48 44h1M55 44h1M59 44h2M66 44h4M72 44h2M80 44h1M91 44h2M118 44h1M13 45h3M17 45h12M30 45h8M40 45h2M43 45h4M49 45h1M52 45h2M56 45h1M58 45h2M63 45h1M69 45h2M82 45h2M89 45h1M96 45h1M110 45h1M13 46h3M17 46h2M21 46h4M26 46h3M31 46h4M36 46h12M49 46h1M52 46h1M54 46h1M57 46h4M62 46h1M71 46h1M81 46h3M94 46h1M105 46h1M111 46h1M14 47h2M17 47h2M21 47h4M26 47h4M31 47h1M33 47h1M35 47h2M41 47h2M44 47h4M49 47h1M51 47h1M55 47h1M58 47h1M60 47h1M69 47h1M73 47h1M78 47h1M89 47h2M14 48h2M17 48h15M33 48h12M46 48h2M49 48h3M55 48h1M62 48h1M64 48h1M66 48h1M68 48h1M81 48h1M84 48h1M88 48h1M14 49h2M17 49h13M32 49h1M35 49h1M38 49h1M40 49h2M43 49h8M57 49h5M65 49h1M78 49h2M81 49h1M86 49h1M90 49h1M109 49h1M14 50h6M23 50h3M29 50h3M33 50h1M35 50h11M47 50h2M51 50h2M57 50h1M67 50h1M69 50h1M75 50h1M83 50h1M85 50h1M88 50h1M93 50h1M101 50h1M120 50h2M14 51h12M29 51h2M33 51h1M35 51h5M41 51h3M45 51h2M48 51h1M50 51h2M55 51h1M57 51h5M66 51h1M78 51h1M81 51h1M91 51h1M106 51h1M110 51h2M16 52h11M29 52h5M35 52h1M37 52h2M40 52h3M44 52h4M49 52h2M52 52h1M57 52h2M61 52h1M70 52h3M74 52h2M79 52h1M85 52h1M90 52h1M106 52h1M113 52h1M120 52h1M15 53h10M26 53h2M30 53h1M33 53h4M39 53h1M41 53h1M43 53h3M47 53h1M51 53h1M57 53h2M67 53h1M69 53h2M79 53h1M82 53h1M86 53h1M92 53h1M15 54h3M19 54h3M23 54h3M27 54h1M30 54h1M34 54h2M38 54h2M41 54h1M46 54h2M49 54h1M53 54h1M57 54h1M59 54h2M63 54h2M71 54h1M77 54h1M83 54h1M88 54h1M104 54h1M114 54h1M16 55h5M23 55h5M30 55h2M33 55h4M41 55h1M43 55h3M47 55h2M51 55h2M55 55h1M60 55h3M64 55h1M66 55h1M85 55h1M89 55h2M107 55h1M16 56h6M23 56h5M30 56h2M34 56h1M42 56h3M46 56h2M66 56h1M68 56h2M73 56h1M83 56h1M88 56h2M108 56h1M113 56h2M16 57h12M30 57h2M33 57h3M40 57h1M46 57h1M48 57h1M54 57h2M62 57h1M66 57h1M68 57h1M71 57h1M73 57h2M76 57h1M81 57h1M86 57h1M89 57h1M92 57h1M94 57h1M100 57h1M108 57h1M17 58h5M25 58h4M31 58h1M33 58h4M39 58h1M41 58h2M44 58h1M47 58h1M54 58h1M61 58h1M65 58h1M67 58h1M69 58h2M75 58h1M77 58h1M85 58h1M88 58h2M101 58h1M17 59h5M25 59h3M33 59h1M41 59h2M48 59h1M55 59h1M58 59h1M64 59h2M68 59h1M71 59h1M82 59h1M108 59h1M117 59h1M18 60h5M26 60h1M29 60h1M31 60h1M33 60h1M36 60h1M39 60h2M42 60h2M53 60h2M56 60h1M63 60h1M65 60h2M73 60h1M82 60h1M88 60h1M108 60h1M18 61h8M31 61h1M35 61h2M43 61h1M48 61h1M51 61h1M67 61h1M75 61h1M83 61h1M18 62h8M31 62h4M40 62h1M42 62h1M46 62h1M49 62h1M61 62h1M70 62h2M74 62h1M86 62h1M93 62h1M100 62h1M19 63h5M27 63h1M31 63h2M39 63h1M43 63h2M51 63h1M53 63h1M58 63h3M80 63h1M83 63h1M91 63h1M19 64h5M25 64h2M28 64h1M33 64h4M38 64h6M45 64h1M49 64h1M51 64h2M62 64h1M64 64h1M67 64h1M77 64h1M100 64h1M20 65h7M34 65h1M36 65h4M41 65h2M46 65h1M58 65h2M62 65h1M65 65h5M76 65h1M20 66h6M32 66h1M49 66h1M58 66h2M64 66h1M67 66h1M70 66h1M100 66h1M21 67h1M23 67h2M38 67h1M46 67h1M53 67h1M64 67h1M92 67h1M21 68h3M25 68h1M32 68h1M35 68h2M38 68h1M47 68h2M59 68h2M22 69h4M33 69h1M35 69h4M41 69h1M50 69h2M58 69h1M65 69h1M97 69h1M23 70h1M25 70h2M28 70h1M30 70h3M34 70h7M42 70h1M49 70h2M52 70h2M59 70h1M61 70h1M63 70h1M65 70h1M25 71h1M28 71h5M34 71h1M36 71h2M41 71h2M45 71h1M50 71h2M54 71h1M29 72h1M31 72h8M42 72h1M44 72h3M48 72h2M51 72h2M59 72h1M63 72h1M32 73h9M43 73h1M45 73h2M57 73h1M34 74h7M42 74h4M48 74h2M51 74h1M55 74h1M58 74h1M37 75h1M40 75h2M44 75h1M47 75h1M50 75h2M55 75h1M40 76h1M42 76h2M45 76h8M41 77h7M43 78h1" stroke="#ff0000" stroke-width="1" fill="none"/>
<path transform="translate(0,.5)" d="M17 24h2M22 30h2M22 31h2M19 37h3M19 38h4M20 39h3M21 40h1M29 45h1M19 46h2M29 46h2M19 47h2M30 47h1M26 50h3M26 51h1M22 54h1M31 54h3M21 55h2M32 55h1M22 56h1M28 56h1M37 56h2M49 56h3M28 57h1M38 57h1M49 57h3M22 58h3M22 59h3M35 59h2M44 59h2M23 60h2M27 60h2M35 60h1M44 60h2M26 61h4M37 61h2M44 61h2M52 61h2M26 62h4M36 62h3M45 62h1M52 62h2M24 63h3M35 63h4M41 63h2M46 63h1M24 64h1M29 64h1M31 64h1M46 64h2M32 65h1M47 65h2M55 65h1M33 66h2M39 66h2M43 66h1M54 66h2M33 67h3M39 67h3M43 67h3M50 67h1M33 68h2M39 68h3M43 68h3M50 68h2M47 70h2M39 71h2M40 72h1" stroke="#ffffff" stroke-width="1" fill="none"/>
<path transform="translate(0,.5)" d="M17 7h2M13 8h5M10 9h8M7 10h10M6 11h10M6 12h9M6 13h8M6 14h7M6 15h6M5 16h6M5 17h5M5 18h5M6 19h3M6 20h3M13 27h1M13 28h1M13 29h1M13 30h2M14 31h1M32 31h2M14 32h1M33 32h1M14 33h1M34 33h1M15 34h1M34 34h2M15 35h1M35 35h2M15 36h1M36 36h1M15 37h1M15 38h1M15 39h1M15 40h1M15 41h1M15 42h1M15 43h2M16 44h1M113 44h2M16 45h1M113 45h3M16 46h1M114 46h2M16 47h1M114 47h2M16 48h1M114 48h2M16 49h1M114 49h2M114 50h2M27 51h2M114 51h2M27 52h2M115 52h1M28 53h1M115 53h2M28 54h1M115 54h2M28 55h2M29 56h1M29 57h1M29 58h2M29 59h2M30 60h1M30 61h1M30 62h1M30 63h1M30 64h1M30 65h2M26 66h6M25 67h7M26 68h6M26 69h7M29 70h1" stroke="#004da8" stroke-width="1" fill="none"/>
</g></g>
<rect x="0" y="0" width="136.2" height="82.9" fill="none" stroke="#3a3a3a" stroke-width=".8"/>
<path d="M8.5 0v-1.6M8.5 82.9v1.6M33.7 0v-1.6M33.7 82.9v1.6M58.9 0v-1.6M58.9 82.9v1.6M84.2 0v-1.6M84.2 82.9v1.6M109.4 0v-1.6M109.4 82.9v1.6M134.6 0v-1.6M134.6 82.9v1.6M0 26.2h-1.6M136.2 26.2h1.6M0 51.3h-1.6M136.2 51.3h1.6M0 76.4h-1.6M136.2 76.4h1.6" stroke="#3a3a3a" stroke-width=".6" fill="none"/>
<text class="tk" x="9.1" y="-3.0" text-anchor="middle">79°50'E</text>
<text class="tk" x="9.1" y="90.6" text-anchor="middle">79°50'E</text>
<text class="tk" x="34.3" y="-3.0" text-anchor="middle">79°55'E</text>
<text class="tk" x="34.3" y="90.6" text-anchor="middle">79°55'E</text>
<text class="tk" x="59.5" y="-3.0" text-anchor="middle">80°0'E</text>
<text class="tk" x="59.5" y="90.6" text-anchor="middle">80°0'E</text>
<text class="tk" x="84.8" y="-3.0" text-anchor="middle">80°5'E</text>
<text class="tk" x="84.8" y="90.6" text-anchor="middle">80°5'E</text>
<text class="tk" x="110.0" y="-3.0" text-anchor="middle">80°10'E</text>
<text class="tk" x="110.0" y="90.6" text-anchor="middle">80°10'E</text>
<text class="tk" x="135.2" y="-3.0" text-anchor="middle">80°15'E</text>
<text class="tk" x="135.2" y="90.6" text-anchor="middle">80°15'E</text>
<text class="tk tl" x="-1.8" y="28.1" text-anchor="end">6°55'N</text>
<text class="tk tl" x="138.6" y="28.1">6°55'N</text>
<text class="tk tl" x="-1.8" y="53.2" text-anchor="end">6°50'N</text>
<text class="tk tl" x="138.6" y="53.2">6°50'N</text>
<text class="tk tl" x="-1.8" y="78.3" text-anchor="end">6°45'N</text>
<text class="tk tl" x="138.6" y="78.3">6°45'N</text>
<text class="yr" x="60" y="8.6" text-anchor="middle">2013</text>
<text class="n" x="132.5" y="3.5" text-anchor="middle">N</text>
<path d="M132.6 4.2L130.6 11.7 132.6 9.6Z" fill="#000"/><path d="M132.6 4.2L134.6 11.7 132.6 9.6Z" fill="#fff" stroke="#000" stroke-width=".35"/>
<path d="M69.0 76.9V79.0H121.5V76.9M75.56 79.0v-1.7M82.12 79.0v-2.0M88.69 79.0v-1.7M95.25 79.0v-2.0M101.81 79.0v-1.7M108.38 79.0v-1.7M114.94 79.0v-1.7" stroke="#555" stroke-width=".5" fill="none"/>
<text class="sb" x="69.2" y="74.2" text-anchor="middle">0</text>
<text class="sb" x="82.1" y="74.2" text-anchor="middle">4.75</text>
<text class="sb" x="95.2" y="74.2" text-anchor="middle">9.5</text>
<text class="sb" x="125.0" y="74.2" text-anchor="middle">19 Km</text>
<text class="lg" x="0.2" y="97.5">Legend</text>
<rect x="0.2" y="102.0" width="6.4" height="2.8" fill="#ff0000"/>
<text class="li" x="7.8" y="105.1">Urban</text>
<rect x="21.0" y="102.0" width="6.4" height="2.8" fill="#38a800"/>
<text class="li" x="29.2" y="105.1">Vegetation</text>
<rect x="51.0" y="102.0" width="6.4" height="2.8" fill="#004da8"/>
<text class="li" x="58.8" y="105.1">Water</text>
<rect x="71.4" y="102.0" width="6.4" height="2.8" fill="#ffffff" stroke="#666" stroke-width=".35"/>
<text class="li" x="79.2" y="105.1">Clouds</text>
<rect x="94.2" y="102.0" width="6.4" height="2.8" fill="#ffaa00"/>
<text class="li" x="101.7" y="105.1">Bare Lands</text>
</g>
<g transform="translate(393.5,258.8)">
<g transform="translate(0.50,0.20)" clip-path="url(#cp)"><g filter="url(#bl)">
<use href="#pg" fill="#38a800" stroke="#38a800" stroke-width="5"/>
<path transform="translate(0,.5)" d="M121 5h1M15 6h6M121 6h3M12 7h5M19 7h4M116 7h1M121 7h2M9 8h4M18 8h5M102 8h1M108 8h1M116 8h1M121 8h3M7 9h1M9 9h1M18 9h4M23 9h1M25 9h1M123 9h1M126 9h1M6 10h1M18 10h1M22 10h2M26 10h1M96 10h1M104 10h3M111 10h1M115 10h1M122 10h1M125 10h1M5 11h1M16 11h3M23 11h3M27 11h2M98 11h1M105 11h1M108 11h1M113 11h1M118 11h1M122 11h2M128 11h1M5 12h1M15 12h2M18 12h4M23 12h2M26 12h2M29 12h1M32 12h2M96 12h1M100 12h1M103 12h1M105 12h1M108 12h1M124 12h1M5 13h1M14 13h14M29 13h1M31 13h6M38 13h1M101 13h1M105 13h2M111 13h1M123 13h1M126 13h1M5 14h1M13 14h13M27 14h12M40 14h4M64 14h1M100 14h1M123 14h2M5 15h1M12 15h14M27 15h2M31 15h10M42 15h2M45 15h2M48 15h1M61 15h1M63 15h1M67 15h1M94 15h1M96 15h1M101 15h1M105 15h1M112 15h1M116 15h1M125 15h1M127 15h1M11 16h27M39 16h1M42 16h3M47 16h4M52 16h2M55 16h5M62 16h2M67 16h1M97 16h1M111 16h1M116 16h1M124 16h3M11 17h6M18 17h28M47 17h2M52 17h8M61 17h2M64 17h1M71 17h1M92 17h3M98 17h1M114 17h1M117 17h2M124 17h3M131 17h1M10 18h10M21 18h5M28 18h16M45 18h1M48 18h3M53 18h3M59 18h5M65 18h4M71 18h2M91 18h3M96 18h3M127 18h1M130 18h1M9 19h7M17 19h1M19 19h1M21 19h21M43 19h4M48 19h8M58 19h3M62 19h1M66 19h2M71 19h3M95 19h1M97 19h1M102 19h1M110 19h1M119 19h1M122 19h1M124 19h4M10 20h2M13 20h32M48 20h1M50 20h3M54 20h1M56 20h2M60 20h1M62 20h1M70 20h6M90 20h3M95 20h1M106 20h1M120 20h1M125 20h3M131 20h1M6 21h13M20 21h3M24 21h25M50 21h1M52 21h4M60 21h2M64 21h1M66 21h3M70 21h4M75 21h1M93 21h1M97 21h1M101 21h1M106 21h1M121 21h1M126 21h2M130 21h1M7 22h6M14 22h32M48 22h1M50 22h1M52 22h1M54 22h2M60 22h1M62 22h2M65 22h7M73 22h1M76 22h2M89 22h1M96 22h2M99 22h1M105 22h3M119 22h1M7 23h10M18 23h8M27 23h13M41 23h11M53 23h3M57 23h5M64 23h1M66 23h4M71 23h5M89 23h1M100 23h1M104 23h1M123 23h1M127 23h1M8 24h11M20 24h14M36 24h7M44 24h3M48 24h7M56 24h4M62 24h4M67 24h1M69 24h2M72 24h1M74 24h3M82 24h1M89 24h1M93 24h2M99 24h1M103 24h1M112 24h1M128 24h1M8 25h15M24 25h2M27 25h2M30 25h1M32 25h2M35 25h8M44 25h13M59 25h1M61 25h2M64 25h2M67 25h3M73 25h6M82 25h2M85 25h2M92 25h2M96 25h1M98 25h2M106 25h2M116 25h1M125 25h1M127 25h3M9 26h7M17 26h13M31 26h4M37 26h8M47 26h3M51 26h1M53 26h5M61 26h7M70 26h1M72 26h1M77 26h6M84 26h1M86 26h1M97 26h1M109 26h1M117 26h1M10 27h3M14 27h23M38 27h7M48 27h2M51 27h6M59 27h1M71 27h3M75 27h1M78 27h5M84 27h1M86 27h1M94 27h1M96 27h1M100 27h2M103 27h1M112 27h2M125 27h1M10 28h3M14 28h26M41 28h1M43 28h1M45 28h5M51 28h8M63 28h1M67 28h3M72 28h1M75 28h1M78 28h3M82 28h1M84 28h1M86 28h1M90 28h5M97 28h1M110 28h1M11 29h2M14 29h1M16 29h3M20 29h37M58 29h1M60 29h2M65 29h1M67 29h2M71 29h1M73 29h1M75 29h1M79 29h4M84 29h3M88 29h1M90 29h1M92 29h2M95 29h2M100 29h2M106 29h1M122 29h1M11 30h2M15 30h10M26 30h12M39 30h4M45 30h1M47 30h2M50 30h7M59 30h1M61 30h1M63 30h1M65 30h1M71 30h2M75 30h2M78 30h2M82 30h2M85 30h1M89 30h2M99 30h2M109 30h1M122 30h1M11 31h3M15 31h17M34 31h1M36 31h2M39 31h3M43 31h1M45 31h9M55 31h1M60 31h2M64 31h3M69 31h3M73 31h8M82 31h1M85 31h1M87 31h1M92 31h3M96 31h1M109 31h1M12 32h2M16 32h7M24 32h9M34 32h1M36 32h3M40 32h1M42 32h2M45 32h7M53 32h4M59 32h4M64 32h3M68 32h2M72 32h4M77 32h1M79 32h3M83 32h1M88 32h3M92 32h1M96 32h2M108 32h1M12 33h2M15 33h6M22 33h12M35 33h5M41 33h3M45 33h7M54 33h4M61 33h2M64 33h4M73 33h3M77 33h1M79 33h1M81 33h2M85 33h2M88 33h1M90 33h2M93 33h1M98 33h1M104 33h1M14 34h1M16 34h3M20 34h14M37 34h1M40 34h2M43 34h2M47 34h4M52 34h2M55 34h1M59 34h5M65 34h1M67 34h3M71 34h1M73 34h5M80 34h1M82 34h1M84 34h1M86 34h1M89 34h1M92 34h3M100 34h1M104 34h1M116 34h1M12 35h3M16 35h19M37 35h2M44 35h1M46 35h15M62 35h8M72 35h1M75 35h1M79 35h1M81 35h1M85 35h3M90 35h3M94 35h1M99 35h1M104 35h1M109 35h2M13 36h2M16 36h19M39 36h3M43 36h12M56 36h1M58 36h8M72 36h6M79 36h4M85 36h3M90 36h1M92 36h1M96 36h1M103 36h1M114 36h1M13 37h2M16 37h21M38 37h1M40 37h1M42 37h12M55 37h4M60 37h4M65 37h2M69 37h4M77 37h1M79 37h2M83 37h3M87 37h2M91 37h3M96 37h2M99 37h2M104 37h1M13 38h2M17 38h10M28 38h7M36 38h2M39 38h2M42 38h14M57 38h1M62 38h2M65 38h2M70 38h4M75 38h1M77 38h4M82 38h2M89 38h2M93 38h2M98 38h1M103 38h1M13 39h2M16 39h14M31 39h10M42 39h9M52 39h3M56 39h1M60 39h2M63 39h1M65 39h1M67 39h4M73 39h1M75 39h1M77 39h2M80 39h3M85 39h4M90 39h1M93 39h1M97 39h3M105 39h1M13 40h2M17 40h15M33 40h2M37 40h7M45 40h11M59 40h7M68 40h1M70 40h1M73 40h1M75 40h1M77 40h3M81 40h2M85 40h5M92 40h1M109 40h1M114 40h1M116 40h1M13 41h2M16 41h15M32 41h8M42 41h7M50 41h2M54 41h1M58 41h4M63 41h1M65 41h4M78 41h6M88 41h1M94 41h1M13 42h2M16 42h18M35 42h6M42 42h4M47 42h4M52 42h2M56 42h3M60 42h1M62 42h3M67 42h1M69 42h3M75 42h2M78 42h4M88 42h4M93 42h1M13 43h1M17 43h3M21 43h6M28 43h23M52 43h1M56 43h3M60 43h3M66 43h3M71 43h1M73 43h2M76 43h1M80 43h2M83 43h2M87 43h2M91 43h2M94 43h1M96 43h2M109 43h1M111 43h1M13 44h3M17 44h6M24 44h31M56 44h2M59 44h1M61 44h4M67 44h1M69 44h1M71 44h6M79 44h2M83 44h3M87 44h1M90 44h1M97 44h1M103 44h1M119 44h1M13 45h3M17 45h5M23 45h31M55 45h5M63 45h1M69 45h1M71 45h1M73 45h4M78 45h1M80 45h1M83 45h1M85 45h1M87 45h1M89 45h1M96 45h2M13 46h3M17 46h14M32 46h9M42 46h14M58 46h1M60 46h1M64 46h1M66 46h1M68 46h2M72 46h2M75 46h1M81 46h2M84 46h2M87 46h1M90 46h2M94 46h1M14 47h2M17 47h18M36 47h5M42 47h10M54 47h1M56 47h1M60 47h1M62 47h2M65 47h1M70 47h1M72 47h1M75 47h3M79 47h1M82 47h1M86 47h2M94 47h2M100 47h2M107 47h1M110 47h1M112 47h1M14 48h2M17 48h4M22 48h19M43 48h10M54 48h1M56 48h2M63 48h1M65 48h3M72 48h8M81 48h1M87 48h3M91 48h1M93 48h1M95 48h1M97 48h1M14 49h2M17 49h2M20 49h17M38 49h4M43 49h1M45 49h6M52 49h2M56 49h1M58 49h1M61 49h3M65 49h1M67 49h5M76 49h1M78 49h2M82 49h1M84 49h2M87 49h1M89 49h2M93 49h1M95 49h1M101 49h2M104 49h1M108 49h1M111 49h1M14 50h10M25 50h11M37 50h9M47 50h5M53 50h2M57 50h1M60 50h1M62 50h2M65 50h1M68 50h5M74 50h1M76 50h1M90 50h1M93 50h2M97 50h1M104 50h2M108 50h1M120 50h1M14 51h13M29 51h10M40 51h5M46 51h2M49 51h2M53 51h1M55 51h1M64 51h1M66 51h4M71 51h4M76 51h1M81 51h1M84 51h1M86 51h1M89 51h1M91 51h2M94 51h3M101 51h1M109 51h1M15 52h1M17 52h10M29 52h10M40 52h1M43 52h1M46 52h2M49 52h1M51 52h1M53 52h1M56 52h1M58 52h1M63 52h2M66 52h1M68 52h1M71 52h1M73 52h2M76 52h1M78 52h1M81 52h1M83 52h1M86 52h1M88 52h2M91 52h4M96 52h1M103 52h1M105 52h1M15 53h11M27 53h1M29 53h9M39 53h1M41 53h8M50 53h1M53 53h1M58 53h2M62 53h1M64 53h3M68 53h2M71 53h2M75 53h1M78 53h1M86 53h1M92 53h1M96 53h2M101 53h1M118 53h1M122 53h1M15 54h6M24 54h4M29 54h18M49 54h2M52 54h4M57 54h1M59 54h1M64 54h1M66 54h2M69 54h2M72 54h1M77 54h5M84 54h1M92 54h1M97 54h1M123 54h1M16 55h12M30 55h10M41 55h7M49 55h1M51 55h1M54 55h1M59 55h5M65 55h1M69 55h1M73 55h1M80 55h1M90 55h1M92 55h1M96 55h1M100 55h1M105 55h1M110 55h1M115 55h2M122 55h1M17 56h7M25 56h4M30 56h21M52 56h2M55 56h1M57 56h3M62 56h3M67 56h1M69 56h2M75 56h1M77 56h1M82 56h1M84 56h2M88 56h2M91 56h1M96 56h1M108 56h2M111 56h1M16 57h9M26 57h3M30 57h8M39 57h3M44 57h7M52 57h2M55 57h1M60 57h1M67 57h2M70 57h2M79 57h4M86 57h1M92 57h1M94 57h1M96 57h1M103 57h1M106 57h1M17 58h4M22 58h2M25 58h1M27 58h2M31 58h2M34 58h5M40 58h1M42 58h2M46 58h2M49 58h1M52 58h2M55 58h1M57 58h1M63 58h2M67 58h2M70 58h1M76 58h1M86 58h1M92 58h1M94 58h1M98 58h2M105 58h1M111 58h1M123 58h1M17 59h2M20 59h5M27 59h2M31 59h16M48 59h2M51 59h1M53 59h7M62 59h2M65 59h1M67 59h1M70 59h2M74 59h1M83 59h1M87 59h1M93 59h1M96 59h2M100 59h2M107 59h1M119 59h1M18 60h7M27 60h3M31 60h5M38 60h10M50 60h9M60 60h2M63 60h1M66 60h2M76 60h3M80 60h1M86 60h1M88 60h3M92 60h2M96 60h2M105 60h1M18 61h2M21 61h7M29 61h1M31 61h7M39 61h3M43 61h1M45 61h1M47 61h1M49 61h4M54 61h2M59 61h3M63 61h2M67 61h1M70 61h1M73 61h2M84 61h1M87 61h1M91 61h2M94 61h1M96 61h2M101 61h1M108 61h1M18 62h3M22 62h3M27 62h1M29 62h1M31 62h7M39 62h1M41 62h2M44 62h2M48 62h1M50 62h7M58 62h2M61 62h2M66 62h1M68 62h2M71 62h1M73 62h1M77 62h1M85 62h3M92 62h2M95 62h1M97 62h1M106 62h1M19 63h5M25 63h2M28 63h2M32 63h3M36 63h5M44 63h1M46 63h4M51 63h5M57 63h1M59 63h1M61 63h2M67 63h2M70 63h1M75 63h1M78 63h1M84 63h1M94 63h1M97 63h1M99 63h1M19 64h5M25 64h3M29 64h1M31 64h7M39 64h2M43 64h1M46 64h3M50 64h2M58 64h1M63 64h5M69 64h2M73 64h1M75 64h1M77 64h2M93 64h1M95 64h1M98 64h1M101 64h1M20 65h3M25 65h3M32 65h5M38 65h1M40 65h1M44 65h1M46 65h4M51 65h6M58 65h1M61 65h2M65 65h5M72 65h2M91 65h2M98 65h2M20 66h3M25 66h1M32 66h5M38 66h3M43 66h2M46 66h2M50 66h2M54 66h3M58 66h2M61 66h1M63 66h2M66 66h1M69 66h1M71 66h1M91 66h2M94 66h1M96 66h1M21 67h3M32 67h3M36 67h5M42 67h1M44 67h2M47 67h1M51 67h3M55 67h1M57 67h3M64 67h1M68 67h1M70 67h2M95 67h2M98 67h1M21 68h5M32 68h3M36 68h2M43 68h8M52 68h2M56 68h1M58 68h3M63 68h2M93 68h1M97 68h1M22 69h4M33 69h5M39 69h1M42 69h4M48 69h1M56 69h6M63 69h1M65 69h1M68 69h1M94 69h1M23 70h3M27 70h1M30 70h12M43 70h1M45 70h4M50 70h3M56 70h2M63 70h1M65 70h2M95 70h2M25 71h12M38 71h1M40 71h1M43 71h4M48 71h1M50 71h4M56 71h1M58 71h4M29 72h3M33 72h2M36 72h3M40 72h1M42 72h7M51 72h2M54 72h3M58 72h2M32 73h7M40 73h9M50 73h2M53 73h1M57 73h4M34 74h13M48 74h4M54 74h1M56 74h3M37 75h1M39 75h2M42 75h6M50 75h5M39 76h1M41 76h7M50 76h3M41 77h7M43 78h1" stroke="#ff0000" stroke-width="1" fill="none"/>
<path transform="translate(0,.5)" d="M22 54h2M25 59h2M25 60h2M29 65h1" stroke="#ffffff" stroke-width="1" fill="none"/>
<path transform="translate(0,.5)" d="M17 7h2M13 8h5M10 9h8M7 10h10M6 11h10M6 12h9M6 13h8M6 14h7M6 15h6M5 16h6M5 17h5M5 18h5M6 19h3M6 20h3M13 27h1M13 28h1M13 29h1M13 30h2M14 31h1M32 31h2M14 32h1M33 32h1M14 33h1M34 33h1M15 34h1M34 34h2M15 35h1M35 35h2M15 36h1M36 36h1M15 37h1M15 38h1M15 39h1M15 40h1M111 40h1M15 41h1M15 42h1M15 43h2M116 43h1M16 44h1M106 44h1M113 44h2M16 45h1M113 45h3M16 46h1M114 46h2M16 47h1M114 47h2M16 48h1M114 48h2M16 49h1M114 49h3M114 50h2M27 51h2M114 51h2M27 52h2M108 52h3M115 52h1M28 53h1M109 53h1M115 53h2M28 54h1M115 54h6M28 55h2M117 55h1M29 56h1M102 56h2M29 57h1M29 58h2M29 59h2M30 60h1M30 61h1M30 62h1M30 63h1M30 64h1M30 65h2M26 66h6M25 67h7M26 68h6M26 69h7M29 70h1" stroke="#004da8" stroke-width="1" fill="none"/>
</g></g>
<rect x="0" y="0" width="136.8" height="82.9" fill="none" stroke="#3a3a3a" stroke-width=".8"/>
<path d="M8.5 0v-1.6M8.5 82.9v1.6M33.7 0v-1.6M33.7 82.9v1.6M58.9 0v-1.6M58.9 82.9v1.6M84.2 0v-1.6M84.2 82.9v1.6M109.4 0v-1.6M109.4 82.9v1.6M134.6 0v-1.6M134.6 82.9v1.6M0 26.2h-1.6M136.8 26.2h1.6M0 51.3h-1.6M136.8 51.3h1.6M0 76.4h-1.6M136.8 76.4h1.6" stroke="#3a3a3a" stroke-width=".6" fill="none"/>
<text class="tk" x="9.1" y="-3.0" text-anchor="middle">79°50'E</text>
<text class="tk" x="9.1" y="90.6" text-anchor="middle">79°50'E</text>
<text class="tk" x="34.3" y="-3.0" text-anchor="middle">79°55'E</text>
<text class="tk" x="34.3" y="90.6" text-anchor="middle">79°55'E</text>
<text class="tk" x="59.5" y="-3.0" text-anchor="middle">80°0'E</text>
<text class="tk" x="59.5" y="90.6" text-anchor="middle">80°0'E</text>
<text class="tk" x="84.8" y="-3.0" text-anchor="middle">80°5'E</text>
<text class="tk" x="84.8" y="90.6" text-anchor="middle">80°5'E</text>
<text class="tk" x="110.0" y="-3.0" text-anchor="middle">80°10'E</text>
<text class="tk" x="110.0" y="90.6" text-anchor="middle">80°10'E</text>
<text class="tk" x="135.2" y="-3.0" text-anchor="middle">80°15'E</text>
<text class="tk" x="135.2" y="90.6" text-anchor="middle">80°15'E</text>
<text class="tk tl" x="-1.8" y="28.1" text-anchor="end">6°55'N</text>
<text class="tk tl" x="139.2" y="28.1">6°55'N</text>
<text class="tk tl" x="-1.8" y="53.2" text-anchor="end">6°50'N</text>
<text class="tk tl" x="139.2" y="53.2">6°50'N</text>
<text class="tk tl" x="-1.8" y="78.3" text-anchor="end">6°45'N</text>
<text class="tk tl" x="139.2" y="78.3">6°45'N</text>
<text class="yr" x="60" y="8.6" text-anchor="middle">2016</text>
<text class="n" x="132.5" y="3.5" text-anchor="middle">N</text>
<path d="M132.6 4.2L130.6 11.7 132.6 9.6Z" fill="#000"/><path d="M132.6 4.2L134.6 11.7 132.6 9.6Z" fill="#fff" stroke="#000" stroke-width=".35"/>
<path d="M69.0 76.9V79.0H121.5V76.9M75.56 79.0v-1.7M82.12 79.0v-2.0M88.69 79.0v-1.7M95.25 79.0v-2.0M101.81 79.0v-1.7M108.38 79.0v-1.7M114.94 79.0v-1.7" stroke="#555" stroke-width=".5" fill="none"/>
<text class="sb" x="69.2" y="74.2" text-anchor="middle">0</text>
<text class="sb" x="82.1" y="74.2" text-anchor="middle">4.75</text>
<text class="sb" x="95.2" y="74.2" text-anchor="middle">9.5</text>
<text class="sb" x="125.0" y="74.2" text-anchor="middle">19 Km</text>
<text class="lg" x="0.2" y="97.5">Legend</text>
<rect x="0.2" y="102.0" width="6.4" height="2.8" fill="#ff0000"/>
<text class="li" x="7.8" y="105.1">Urban</text>
<rect x="21.0" y="102.0" width="6.4" height="2.8" fill="#38a800"/>
<text class="li" x="29.2" y="105.1">Vegetation</text>
<rect x="51.0" y="102.0" width="6.4" height="2.8" fill="#004da8"/>
<text class="li" x="58.8" y="105.1">Water</text>
<rect x="71.4" y="102.0" width="6.4" height="2.8" fill="#ffffff" stroke="#666" stroke-width=".35"/>
<text class="li" x="79.2" y="105.1">Clouds</text>
<rect x="94.2" y="102.0" width="6.4" height="2.8" fill="#ffaa00"/>
<text class="li" x="101.7" y="105.1">Bare Lands</text>
</g>
</svg></body></html>
